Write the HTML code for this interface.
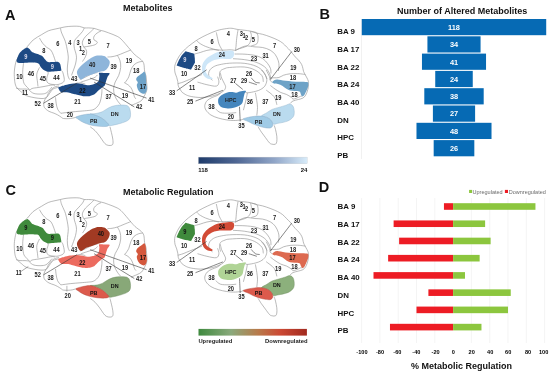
<!DOCTYPE html>
<html><head><meta charset="utf-8"><style>
html,body{margin:0;padding:0;background:#fff;}
svg{display:block;font-family:"Liberation Sans", sans-serif;will-change:transform;}
</style></head><body>
<svg width="550" height="373" viewBox="0 0 550 373">
<g transform="translate(0,0)">
<path d="M22.00,92.50 C21.50,92.08 19.83,90.75 19.00,90.00 C18.17,89.25 17.58,88.83 17.00,88.00 C16.42,87.17 15.90,86.30 15.50,85.00 C15.10,83.70 14.80,82.35 14.60,80.20 C14.40,78.05 14.17,74.78 14.30,72.10 C14.43,69.42 14.95,66.23 15.40,64.10 C15.85,61.97 16.05,61.17 17.00,59.30 C17.95,57.43 19.35,55.05 21.10,52.90 C22.85,50.75 25.50,48.55 27.50,46.40 C29.50,44.25 30.77,41.95 33.10,40.00 C35.43,38.05 38.98,36.22 41.50,34.70 C44.02,33.18 46.12,31.80 48.20,30.90 C50.28,30.00 52.18,29.75 54.00,29.30 C55.82,28.85 57.43,28.57 59.10,28.20 C60.77,27.83 62.48,27.38 64.00,27.10 C65.52,26.82 66.53,26.65 68.20,26.50 C69.87,26.35 72.12,26.22 74.00,26.20 C75.88,26.18 77.78,26.12 79.50,26.40 C81.22,26.68 82.80,27.65 84.30,27.90 C85.80,28.15 86.87,27.82 88.50,27.90 C90.13,27.98 92.33,28.05 94.10,28.40 C95.87,28.75 97.45,29.53 99.10,30.00 C100.75,30.47 102.48,30.75 104.00,31.20 C105.52,31.65 106.70,32.15 108.20,32.70 C109.70,33.25 111.48,33.88 113.00,34.50 C114.52,35.12 115.97,35.65 117.30,36.40 C118.63,37.15 119.52,37.60 121.00,39.00 C122.48,40.40 124.53,42.88 126.20,44.80 C127.87,46.72 129.52,48.80 131.00,50.50 C132.48,52.20 133.42,53.47 135.10,55.00 C136.78,56.53 139.65,58.25 141.10,59.70 C142.55,61.15 143.22,61.82 143.80,63.70 C144.38,65.58 144.23,68.95 144.60,71.00 C144.97,73.05 145.67,74.17 146.00,76.00 C146.33,77.83 146.43,79.92 146.60,82.00 C146.77,84.08 147.10,86.75 147.00,88.50 C146.90,90.25 146.50,91.17 146.00,92.50 C145.50,93.83 144.75,95.17 144.00,96.50 C143.25,97.83 142.67,99.42 141.50,100.50 C140.33,101.58 138.75,102.17 137.00,103.00 C135.25,103.83 132.00,105.08 131.00,105.50" fill="none" stroke="#8c8c8c" stroke-width="0.6"/>
<path d="M22.00,92.50 C22.50,92.92 23.83,94.33 25.00,95.00 C26.17,95.67 27.33,96.03 29.00,96.50 C30.67,96.97 33.00,97.47 35.00,97.80 C37.00,98.13 39.33,98.43 41.00,98.50 C42.67,98.57 44.00,98.53 45.00,98.20 C46.00,97.87 46.50,97.20 47.00,96.50 C47.50,95.80 47.50,94.92 48.00,94.00 C48.50,93.08 49.17,92.00 50.00,91.00 C50.83,90.00 52.00,88.75 53.00,88.00 C54.00,87.25 55.00,86.83 56.00,86.50 C57.00,86.17 58.50,86.08 59.00,86.00" fill="none" stroke="#8c8c8c" stroke-width="0.6"/>
<path d="M58.30,87.30 C57.47,87.57 54.60,88.12 53.30,88.90 C52.00,89.68 51.35,90.90 50.50,92.00 C49.65,93.10 49.12,94.25 48.20,95.50 C47.28,96.75 45.73,98.20 45.00,99.50 C44.27,100.80 43.88,101.95 43.80,103.30 C43.72,104.65 43.65,106.27 44.50,107.60 C45.35,108.93 47.32,110.37 48.90,111.30 C50.48,112.23 52.55,112.60 54.00,113.20 C55.45,113.80 56.43,114.27 57.60,114.90 C58.77,115.53 60.02,116.40 61.00,117.00 C61.98,117.60 61.88,118.25 63.50,118.50 C65.12,118.75 68.53,118.73 70.70,118.50 C72.87,118.27 75.53,117.33 76.50,117.10" fill="none" stroke="#8c8c8c" stroke-width="0.6"/>
<path d="M39.50,38.10 C40.05,38.98 41.58,41.85 42.80,43.40 C44.02,44.95 45.45,46.28 46.80,47.40 C48.15,48.52 49.78,48.75 50.90,50.10 C52.02,51.45 52.73,53.60 53.50,55.50 C54.27,57.40 55.17,60.50 55.50,61.50" fill="none" stroke="#8c8c8c" stroke-width="0.6"/>
<path d="M60.50,28.30 C60.63,28.92 60.88,30.72 61.30,32.00 C61.72,33.28 62.42,34.67 63.00,36.00 C63.58,37.33 64.32,38.75 64.80,40.00 C65.28,41.25 65.50,41.92 65.90,43.50 C66.30,45.08 66.80,47.25 67.20,49.50 C67.60,51.75 68.20,54.75 68.30,57.00 C68.40,59.25 67.97,61.00 67.80,63.00 C67.63,65.00 67.28,66.93 67.30,69.00 C67.32,71.07 67.53,73.65 67.90,75.40 C68.27,77.15 69.23,78.82 69.50,79.50" fill="none" stroke="#8c8c8c" stroke-width="0.6"/>
<path d="M84.30,27.90 C83.98,28.52 83.42,30.20 82.40,31.60 C81.38,33.00 79.45,34.90 78.20,36.30 C76.95,37.70 75.60,38.75 74.90,40.00 C74.20,41.25 74.08,42.38 74.00,43.80 C73.92,45.22 74.10,46.95 74.40,48.50 C74.70,50.05 75.45,51.55 75.80,53.10 C76.15,54.65 76.55,55.98 76.50,57.80 C76.45,59.62 76.00,61.97 75.50,64.00 C75.00,66.03 74.17,68.10 73.50,70.00 C72.83,71.90 71.83,74.50 71.50,75.40" fill="none" stroke="#8c8c8c" stroke-width="0.6"/>
<path d="M94.10,28.40 C93.48,29.00 91.80,30.68 90.40,32.00 C89.00,33.32 86.95,34.88 85.70,36.30 C84.45,37.72 83.45,39.25 82.90,40.50 C82.35,41.75 82.25,42.72 82.40,43.80 C82.55,44.88 83.17,45.98 83.80,47.00 C84.43,48.02 85.73,48.88 86.20,49.90 C86.67,50.92 86.75,51.92 86.60,53.10 C86.45,54.28 85.98,55.60 85.30,57.00 C84.62,58.40 82.97,60.75 82.50,61.50" fill="none" stroke="#8c8c8c" stroke-width="0.6"/>
<path d="M83.80,47.00 C84.75,46.85 87.62,46.48 89.50,46.10 C91.38,45.72 93.78,45.32 95.10,44.70 C96.42,44.08 97.25,43.02 97.40,42.40 C97.55,41.78 96.55,41.40 96.00,41.00 C95.45,40.60 94.48,40.63 94.10,40.00 C93.72,39.37 93.47,38.13 93.70,37.20 C93.93,36.27 94.65,35.27 95.50,34.40 C96.35,33.53 97.88,32.55 98.80,32.00 C99.72,31.45 100.63,31.25 101.00,31.10" fill="none" stroke="#8c8c8c" stroke-width="0.6"/>
<path d="M23.50,63.30 C23.37,64.77 22.70,69.02 22.70,72.10 C22.70,75.18 22.95,79.48 23.50,81.80 C24.05,84.12 25.00,84.72 26.00,86.00 C27.00,87.28 28.92,88.92 29.50,89.50" fill="none" stroke="#8c8c8c" stroke-width="0.6"/>
<path d="M39.50,67.40 C39.05,68.52 37.13,71.65 36.80,74.10 C36.47,76.55 37.30,80.03 37.50,82.10 C37.70,84.17 37.92,85.77 38.00,86.50" fill="none" stroke="#8c8c8c" stroke-width="0.6"/>
<path d="M46.00,70.50 C46.37,70.87 48.07,71.43 48.20,72.70 C48.33,73.97 47.00,76.55 46.80,78.10 C46.60,79.65 46.47,81.02 47.00,82.00 C47.53,82.98 48.83,83.58 50.00,84.00 C51.17,84.42 53.33,84.42 54.00,84.50" fill="none" stroke="#8c8c8c" stroke-width="0.6"/>
<path d="M61.50,70.50 C61.73,70.87 62.43,71.22 62.90,72.70 C63.37,74.18 64.28,77.77 64.30,79.40 C64.32,81.03 64.05,81.65 63.00,82.50 C61.95,83.35 59.50,84.17 58.00,84.50 C56.50,84.83 54.67,84.50 54.00,84.50" fill="none" stroke="#8c8c8c" stroke-width="0.6"/>
<path d="M16.00,88.00 C16.67,88.17 18.50,88.83 20.00,89.00 C21.50,89.17 23.42,88.92 25.00,89.00 C26.58,89.08 28.75,89.42 29.50,89.50" fill="none" stroke="#8c8c8c" stroke-width="0.6"/>
<path d="M29.50,90.50 C29.92,90.17 30.58,89.00 32.00,88.50 C33.42,88.00 36.00,87.83 38.00,87.50 C40.00,87.17 41.67,86.92 44.00,86.50 C46.33,86.08 50.17,85.17 52.00,85.00 C53.83,84.83 54.50,85.42 55.00,85.50" fill="none" stroke="#8c8c8c" stroke-width="0.6"/>
<path d="M29.50,90.50 C30.25,91.00 31.92,92.92 34.00,93.50 C36.08,94.08 39.83,94.17 42.00,94.00 C44.17,93.83 45.33,93.67 47.00,92.50 C48.67,91.33 51.17,87.92 52.00,87.00" fill="none" stroke="#8c8c8c" stroke-width="0.6"/>
<path d="M130.80,50.00 C129.68,50.45 126.33,51.80 124.10,52.70 C121.87,53.60 119.42,54.73 117.40,55.40 C115.38,56.07 113.65,56.43 112.00,56.70 C110.35,56.97 108.25,56.95 107.50,57.00" fill="none" stroke="#8c8c8c" stroke-width="0.6"/>
<path d="M117.40,55.40 C117.83,56.28 119.45,58.70 120.00,60.70 C120.55,62.70 120.92,64.93 120.70,67.40 C120.48,69.87 119.62,73.07 118.70,75.50 C117.78,77.93 116.05,79.83 115.20,82.00 C114.35,84.17 113.72,86.33 113.60,88.50 C113.48,90.67 113.87,92.98 114.50,95.00 C115.13,97.02 116.38,99.00 117.40,100.60 C118.42,102.20 120.07,103.93 120.60,104.60" fill="none" stroke="#8c8c8c" stroke-width="0.6"/>
<path d="M142.80,61.40 C142.13,61.52 140.25,61.55 138.80,62.10 C137.35,62.65 135.43,63.37 134.10,64.70 C132.77,66.03 131.68,68.08 130.80,70.10 C129.92,72.12 129.70,74.78 128.80,76.80 C127.90,78.82 126.08,81.20 125.40,82.20 C124.72,83.20 124.25,82.35 124.70,82.80 C125.15,83.25 127.08,84.12 128.10,84.90 C129.12,85.68 130.02,86.38 130.80,87.50 C131.58,88.62 132.18,90.03 132.80,91.60 C133.42,93.17 133.97,95.67 134.50,96.90 C135.03,98.13 135.75,98.65 136.00,99.00" fill="none" stroke="#8c8c8c" stroke-width="0.6"/>
<path d="M55.50,97.40 C55.62,98.38 55.85,101.35 56.20,103.30 C56.55,105.25 56.83,107.43 57.60,109.10 C58.37,110.77 60.27,112.60 60.80,113.30" fill="none" stroke="#8c8c8c" stroke-width="0.6"/>
<path d="M60.80,113.30 C62.45,113.08 67.50,112.35 70.70,112.00 C73.90,111.65 77.08,111.45 80.00,111.20 C82.92,110.95 86.03,110.73 88.20,110.50 C90.37,110.27 91.62,110.30 93.00,109.80 C94.38,109.30 95.42,108.55 96.50,107.50 C97.58,106.45 98.75,105.00 99.50,103.50 C100.25,102.00 100.62,100.25 101.00,98.50 C101.38,96.75 101.63,94.67 101.80,93.00 C101.97,91.33 101.97,89.25 102.00,88.50" fill="none" stroke="#8c8c8c" stroke-width="0.6"/>
<path d="M90.30,126.90 C91.08,127.52 93.43,129.03 95.00,130.60 C96.57,132.17 98.28,134.42 99.70,136.30 C101.12,138.18 102.40,140.50 103.50,141.90 C104.60,143.30 105.22,144.10 106.30,144.70 C107.38,145.30 108.92,145.58 110.00,145.50 C111.08,145.42 112.33,145.27 112.80,144.20 C113.27,143.13 113.03,141.05 112.80,139.10 C112.57,137.15 111.87,134.53 111.40,132.50 C110.93,130.47 110.23,127.83 110.00,126.90" fill="none" stroke="#8c8c8c" stroke-width="0.6"/>
<path d="M79.90,79.50 C80.80,79.12 83.65,77.97 85.30,77.20 C86.95,76.43 88.40,75.55 89.80,74.90 C91.20,74.25 92.42,73.68 93.70,73.30 C94.98,72.92 96.87,72.72 97.50,72.60" fill="none" stroke="#8c8c8c" stroke-width="0.6"/>
<path d="M80.70,82.20 C81.72,81.87 85.02,80.78 86.80,80.20 C88.58,79.62 90.00,79.20 91.40,78.70 C92.80,78.20 94.18,77.83 95.20,77.20 C96.22,76.57 97.12,75.28 97.50,74.90" fill="none" stroke="#8c8c8c" stroke-width="0.6"/>
<path d="M78.00,83.20 C78.45,83.15 79.48,82.77 80.70,82.90 C81.92,83.03 84.53,83.82 85.30,84.00" fill="none" stroke="#8c8c8c" stroke-width="0.6"/>
<path d="M16.50,60.50 C16.65,59.65 18.45,55.00 19.00,54.00 C19.55,53.00 21.40,51.05 22.00,50.50 C22.60,49.95 24.45,48.81 25.00,48.50 C25.55,48.19 27.05,47.35 27.50,47.40 C27.95,47.45 29.07,48.56 29.50,49.00 C29.93,49.44 31.25,51.37 31.80,51.80 C32.35,52.23 34.34,53.05 35.00,53.30 C35.66,53.55 37.63,53.99 38.40,54.30 C39.17,54.61 42.05,55.90 42.70,56.40 C43.35,56.90 44.46,58.78 44.90,59.30 C45.34,59.82 46.66,61.30 47.10,61.60 C47.54,61.90 48.21,62.27 49.30,62.30 C50.39,62.33 56.91,61.73 58.00,61.90 C59.09,62.07 59.87,63.24 60.20,64.00 C60.53,64.76 61.24,68.83 61.30,69.50 C61.36,70.17 61.43,70.53 60.80,70.70 C60.17,70.87 56.26,71.09 55.00,71.20 C53.74,71.31 49.32,71.92 48.20,71.80 C47.08,71.68 44.57,70.51 43.80,70.00 C43.03,69.49 40.95,67.27 40.50,66.70 C40.05,66.13 39.62,64.67 39.30,64.30 C38.98,63.93 38.05,63.17 37.30,63.00 C36.55,62.83 32.93,62.62 31.80,62.60 C30.67,62.58 27.09,62.75 26.00,62.80 C24.91,62.85 21.75,63.13 20.90,63.10 C20.05,63.07 17.94,62.76 17.50,62.50 C17.06,62.24 16.35,61.35 16.50,60.50Z" fill="#1d4a84" stroke="none" stroke-width="0.45"/>
<path d="M99.00,55.50 C100.33,55.53 102.67,55.58 104.00,56.00 C105.33,56.42 106.08,57.17 107.00,58.00 C107.92,58.83 109.08,60.00 109.50,61.00 C109.92,62.00 109.75,62.92 109.50,64.00 C109.25,65.08 108.75,66.42 108.00,67.50 C107.25,68.58 106.17,69.83 105.00,70.50 C103.83,71.17 102.33,71.17 101.00,71.50 C99.67,71.83 98.50,72.00 97.00,72.50 C95.50,73.00 93.67,73.92 92.00,74.50 C90.33,75.08 88.50,75.33 87.00,76.00 C85.50,76.67 84.00,77.92 83.00,78.50 C82.00,79.08 81.67,79.58 81.00,79.50 C80.33,79.42 79.58,78.75 79.00,78.00 C78.42,77.25 77.83,76.08 77.50,75.00 C77.17,73.92 76.75,72.67 77.00,71.50 C77.25,70.33 78.00,69.25 79.00,68.00 C80.00,66.75 81.50,65.33 83.00,64.00 C84.50,62.67 86.33,61.17 88.00,60.00 C89.67,58.83 91.67,57.70 93.00,57.00 C94.33,56.30 95.00,56.05 96.00,55.80 C97.00,55.55 97.67,55.47 99.00,55.50Z" fill="#8eb5da" stroke="none" stroke-width="0.45"/>
<path d="M58.30,87.30 C58.75,86.79 62.83,85.73 64.00,85.40 C65.17,85.07 68.64,84.21 70.00,84.00 C71.36,83.79 76.23,83.26 77.60,83.30 C78.97,83.34 82.63,84.21 83.70,84.40 C84.77,84.59 87.38,85.20 88.30,85.20 C89.22,85.20 92.13,84.59 92.90,84.40 C93.67,84.21 95.47,83.57 96.00,83.30 C96.53,83.03 97.90,82.08 98.20,81.70 C98.50,81.32 98.88,80.11 99.00,79.50 C99.12,78.89 99.40,76.27 99.40,75.60 C99.40,74.93 98.54,73.07 99.00,72.80 C99.46,72.53 102.93,72.86 104.00,72.90 C105.07,72.94 109.36,72.77 109.70,73.20 C110.04,73.63 107.78,76.35 107.40,77.20 C107.02,78.05 106.17,80.86 105.90,81.70 C105.63,82.54 105.07,85.02 104.70,85.60 C104.33,86.18 102.83,87.01 102.20,87.50 C101.57,87.99 99.17,89.82 98.40,90.50 C97.63,91.18 95.39,93.73 94.50,94.30 C93.61,94.87 90.64,96.01 89.50,96.20 C88.36,96.39 84.50,96.39 83.10,96.20 C81.70,96.01 77.03,94.68 75.50,94.30 C73.97,93.92 69.20,92.59 67.80,92.40 C66.40,92.21 62.33,92.59 61.50,92.40 C60.67,92.21 59.82,91.01 59.50,90.50 C59.18,89.99 57.85,87.81 58.30,87.30Z" fill="#1d4a84" stroke="none" stroke-width="0.45"/>
<path d="M144.50,71.70 C144.95,72.15 145.53,73.42 145.80,75.10 C146.07,76.78 145.92,79.57 146.10,81.80 C146.28,84.03 146.95,86.72 146.90,88.50 C146.85,90.28 146.32,91.62 145.80,92.50 C145.28,93.38 144.70,93.80 143.80,93.80 C142.90,93.80 141.40,93.27 140.40,92.50 C139.40,91.73 138.40,90.43 137.80,89.20 C137.20,87.97 136.80,86.22 136.80,85.10 C136.80,83.98 137.90,83.38 137.80,82.50 C137.70,81.62 136.32,80.70 136.20,79.80 C136.08,78.90 136.40,78.00 137.10,77.10 C137.80,76.20 139.40,75.18 140.40,74.40 C141.40,73.62 142.42,72.85 143.10,72.40 C143.78,71.95 144.05,71.25 144.50,71.70Z" fill="#6ea3c9" stroke="none" stroke-width="0.45"/>
<path d="M90.10,114.00 C89.97,113.62 93.98,113.87 96.00,113.50 C98.02,113.13 100.05,112.77 102.20,111.80 C104.35,110.83 106.67,108.75 108.90,107.70 C111.13,106.65 113.15,105.93 115.60,105.50 C118.05,105.07 121.48,104.95 123.60,105.10 C125.72,105.25 127.18,105.40 128.30,106.40 C129.42,107.40 129.97,109.32 130.30,111.10 C130.63,112.88 130.73,115.53 130.30,117.10 C129.87,118.67 129.25,119.48 127.70,120.50 C126.15,121.52 123.47,122.42 121.00,123.20 C118.53,123.98 114.92,124.82 112.90,125.20 C110.88,125.58 110.02,126.07 108.90,125.50 C107.78,124.93 107.32,122.97 106.20,121.80 C105.08,120.63 103.77,119.50 102.20,118.50 C100.63,117.50 98.82,116.55 96.80,115.80 C94.78,115.05 90.23,114.38 90.10,114.00Z" fill="#badbef" stroke="#94b4cc" stroke-width="0.45"/>
<path d="M76.00,117.10 C76.68,116.43 79.75,115.62 82.10,115.10 C84.45,114.58 87.65,113.88 90.10,114.00 C92.55,114.12 94.78,115.05 96.80,115.80 C98.82,116.55 100.63,117.50 102.20,118.50 C103.77,119.50 105.08,120.68 106.20,121.80 C107.32,122.92 109.12,124.42 108.90,125.20 C108.68,125.98 106.92,126.35 104.90,126.50 C102.88,126.65 99.48,126.43 96.80,126.10 C94.12,125.77 91.25,125.22 88.80,124.50 C86.35,123.78 83.90,122.70 82.10,121.80 C80.30,120.90 79.02,119.88 78.00,119.10 C76.98,118.32 75.32,117.77 76.00,117.10Z" fill="#a0cbe6" stroke="#86a8c4" stroke-width="0.45"/>
<path d="M43.40,103.30 C49.07,99.88 71.73,86.22 77.40,82.80" fill="none" stroke="#333" stroke-width="0.6"/>
<path d="M90.10,78.10 C99.50,81.43 137.10,94.77 146.50,98.10" fill="none" stroke="#333" stroke-width="0.6"/>
<path d="M94.10,82.10 C100.80,86.23 127.60,102.77 134.30,106.90" fill="none" stroke="#333" stroke-width="0.6"/>
<text transform="translate(43.90,52.74) scale(0.88,1)" font-size="6.5" font-weight="bold" fill="#222" text-anchor="middle">8</text>
<text transform="translate(57.80,46.04) scale(0.88,1)" font-size="6.5" font-weight="bold" fill="#222" text-anchor="middle">6</text>
<text transform="translate(69.80,44.74) scale(0.88,1)" font-size="6.5" font-weight="bold" fill="#222" text-anchor="middle">4</text>
<text transform="translate(78.20,45.34) scale(0.88,1)" font-size="6.5" font-weight="bold" fill="#222" text-anchor="middle">3</text>
<text transform="translate(80.60,50.84) scale(0.88,1)" font-size="6.5" font-weight="bold" fill="#222" text-anchor="middle">1</text>
<text transform="translate(83.40,55.14) scale(0.88,1)" font-size="6.5" font-weight="bold" fill="#222" text-anchor="middle">2</text>
<text transform="translate(89.40,44.34) scale(0.88,1)" font-size="6.5" font-weight="bold" fill="#222" text-anchor="middle">5</text>
<text transform="translate(108.00,48.34) scale(0.88,1)" font-size="6.5" font-weight="bold" fill="#222" text-anchor="middle">7</text>
<text transform="translate(19.40,79.34) scale(0.88,1)" font-size="6.5" font-weight="bold" fill="#222" text-anchor="middle">10</text>
<text transform="translate(31.00,76.04) scale(0.88,1)" font-size="6.5" font-weight="bold" fill="#222" text-anchor="middle">46</text>
<text transform="translate(42.80,81.34) scale(0.88,1)" font-size="6.5" font-weight="bold" fill="#222" text-anchor="middle">45</text>
<text transform="translate(56.50,80.24) scale(0.88,1)" font-size="6.5" font-weight="bold" fill="#222" text-anchor="middle">44</text>
<text transform="translate(74.20,80.64) scale(0.88,1)" font-size="6.5" font-weight="bold" fill="#222" text-anchor="middle">43</text>
<text transform="translate(37.70,105.74) scale(0.88,1)" font-size="6.5" font-weight="bold" fill="#222" text-anchor="middle">52</text>
<text transform="translate(50.60,108.14) scale(0.88,1)" font-size="6.5" font-weight="bold" fill="#222" text-anchor="middle">38</text>
<text transform="translate(77.40,104.44) scale(0.88,1)" font-size="6.5" font-weight="bold" fill="#222" text-anchor="middle">21</text>
<text transform="translate(113.60,68.74) scale(0.88,1)" font-size="6.5" font-weight="bold" fill="#222" text-anchor="middle">39</text>
<text transform="translate(128.90,63.24) scale(0.88,1)" font-size="6.5" font-weight="bold" fill="#222" text-anchor="middle">19</text>
<text transform="translate(136.20,73.44) scale(0.88,1)" font-size="6.5" font-weight="bold" fill="#222" text-anchor="middle">18</text>
<text transform="translate(108.60,99.04) scale(0.88,1)" font-size="6.5" font-weight="bold" fill="#222" text-anchor="middle">37</text>
<text transform="translate(125.00,98.24) scale(0.88,1)" font-size="6.5" font-weight="bold" fill="#222" text-anchor="middle">19</text>
<text transform="translate(139.20,109.14) scale(0.88,1)" font-size="6.5" font-weight="bold" fill="#222" text-anchor="middle">42</text>
<text transform="translate(151.30,101.54) scale(0.88,1)" font-size="6.5" font-weight="bold" fill="#222" text-anchor="middle">41</text>
<text transform="translate(25.90,58.74) scale(0.88,1)" font-size="6.5" font-weight="bold" fill="#dde" text-anchor="middle">9</text>
<text transform="translate(52.40,69.34) scale(0.88,1)" font-size="6.5" font-weight="bold" fill="#dde" text-anchor="middle">9</text>
<text transform="translate(82.50,93.04) scale(0.88,1)" font-size="6.5" font-weight="bold" fill="#111" text-anchor="middle">22</text>
<text transform="translate(92.20,67.44) scale(0.88,1)" font-size="6.5" font-weight="bold" fill="#222" text-anchor="middle">40</text>
<text transform="translate(143.00,88.74) scale(0.88,1)" font-size="6.5" font-weight="bold" fill="#222" text-anchor="middle">17</text>
<text transform="translate(114.70,116.05) scale(0.95,1)" font-size="5.7" font-weight="bold" fill="#222" text-anchor="middle">DN</text>
<text transform="translate(93.70,123.45) scale(0.95,1)" font-size="5.7" font-weight="bold" fill="#222" text-anchor="middle">PB</text>
<text transform="translate(24.90,95.24) scale(0.88,1)" font-size="6.5" font-weight="bold" fill="#222" text-anchor="middle">11</text>
<text transform="translate(69.80,117.34) scale(0.88,1)" font-size="6.5" font-weight="bold" fill="#222" text-anchor="middle">20</text>
</g>
<g transform="translate(0,0)">
<path d="M182.10,92.30 C181.73,91.77 180.53,90.17 179.90,89.10 C179.27,88.03 178.65,87.15 178.30,85.90 C177.95,84.65 178.07,83.03 177.80,81.60 C177.53,80.17 177.15,78.73 176.70,77.30 C176.25,75.87 175.45,74.43 175.10,73.00 C174.75,71.57 174.62,70.03 174.60,68.70 C174.58,67.37 174.70,66.20 175.00,65.00 C175.30,63.80 175.63,63.08 176.40,61.50 C177.17,59.92 178.12,57.58 179.60,55.50 C181.08,53.42 183.22,51.00 185.30,49.00 C187.38,47.00 189.82,45.20 192.10,43.50 C194.38,41.80 196.48,40.28 199.00,38.80 C201.52,37.32 204.23,35.97 207.20,34.60 C210.17,33.23 213.60,31.60 216.80,30.60 C220.00,29.60 223.87,28.98 226.40,28.60 C228.93,28.22 230.07,28.15 232.00,28.30 C233.93,28.45 234.98,29.05 238.00,29.50 C241.02,29.95 247.05,30.42 250.10,31.00 C253.15,31.58 254.22,32.45 256.30,33.00 C258.38,33.55 260.30,33.67 262.60,34.30 C264.90,34.93 267.58,35.85 270.10,36.80 C272.62,37.75 275.60,38.95 277.70,40.00 C279.80,41.05 281.23,41.95 282.70,43.10 C284.17,44.25 285.23,45.63 286.50,46.90 C287.77,48.17 289.30,49.60 290.30,50.70 C291.30,51.80 291.65,52.45 292.50,53.50 C293.35,54.55 294.30,55.78 295.40,57.00 C296.50,58.22 298.05,59.53 299.10,60.80 C300.15,62.07 301.07,63.33 301.70,64.60 C302.33,65.87 302.58,67.25 302.90,68.40 C303.22,69.55 303.22,70.45 303.60,71.50 C303.98,72.55 304.63,73.62 305.20,74.70 C305.77,75.78 306.48,76.95 307.00,78.00 C307.52,79.05 308.05,80.08 308.30,81.00 C308.55,81.92 308.57,82.13 308.50,83.50 C308.43,84.87 308.37,87.27 307.90,89.20 C307.43,91.13 306.55,93.62 305.70,95.10 C304.85,96.58 304.03,97.37 302.80,98.10 C301.57,98.83 299.93,99.02 298.30,99.50 C296.67,99.98 294.38,100.33 293.00,101.00 C291.62,101.67 290.50,103.08 290.00,103.50" fill="none" stroke="#8c8c8c" stroke-width="0.6"/>
<path d="M182.10,92.30 C182.82,92.75 184.80,94.28 186.40,95.00 C188.00,95.72 189.40,96.18 191.70,96.60 C194.00,97.02 197.45,97.47 200.20,97.50 C202.95,97.53 205.52,97.25 208.20,96.80 C210.88,96.35 213.83,95.70 216.30,94.80 C218.77,93.90 221.45,92.63 223.00,91.40 C224.55,90.17 225.38,88.73 225.60,87.40 C225.82,86.07 224.97,84.97 224.30,83.40 C223.63,81.83 222.27,79.78 221.60,78.00 C220.93,76.22 220.52,73.58 220.30,72.70" fill="none" stroke="#8c8c8c" stroke-width="0.6"/>
<path d="M220.50,93.30 C219.90,93.70 218.30,95.00 216.90,95.70 C215.50,96.40 213.72,96.70 212.10,97.50 C210.48,98.30 208.42,99.18 207.20,100.50 C205.98,101.82 205.00,103.78 204.80,105.40 C204.60,107.02 204.98,108.60 206.00,110.20 C207.02,111.80 208.88,113.70 210.90,115.00 C212.92,116.30 215.48,117.18 218.10,118.00 C220.72,118.82 223.98,119.48 226.60,119.90 C229.22,120.32 231.38,120.50 233.80,120.50 C236.22,120.50 239.52,120.18 241.10,119.90 C242.68,119.62 242.93,118.98 243.30,118.80" fill="none" stroke="#8c8c8c" stroke-width="0.6"/>
<path d="M196.80,40.60 C197.25,41.03 198.05,42.23 199.50,43.20 C200.95,44.17 203.15,45.42 205.50,46.40 C207.85,47.38 211.37,48.43 213.60,49.10 C215.83,49.77 218.02,50.18 218.90,50.40" fill="none" stroke="#8c8c8c" stroke-width="0.6"/>
<path d="M216.30,32.40 C216.52,33.40 217.17,36.50 217.60,38.40 C218.03,40.30 218.23,42.02 218.90,43.80 C219.57,45.58 220.92,47.90 221.60,49.10 C222.28,50.30 222.77,50.68 223.00,51.00" fill="none" stroke="#8c8c8c" stroke-width="0.6"/>
<path d="M194.50,54.00 C195.45,53.75 198.13,53.10 200.20,52.50 C202.27,51.90 204.67,50.88 206.90,50.40 C209.13,49.92 211.08,49.63 213.60,49.60 C216.12,49.57 219.27,50.17 222.00,50.20 C224.73,50.23 227.77,49.77 230.00,49.80 C232.23,49.83 234.50,50.30 235.40,50.40" fill="none" stroke="#8c8c8c" stroke-width="0.6"/>
<path d="M238.00,30.00 C237.78,31.40 237.03,35.67 236.70,38.40 C236.37,41.13 236.22,44.40 236.00,46.40 C235.78,48.40 235.50,49.73 235.40,50.40" fill="none" stroke="#8c8c8c" stroke-width="0.6"/>
<path d="M250.10,31.00 C250.32,31.78 251.40,33.80 251.40,35.70 C251.40,37.60 250.98,40.62 250.10,42.40 C249.22,44.18 248.12,45.28 246.10,46.40 C244.08,47.52 239.78,48.43 238.00,49.10 C236.22,49.77 235.83,50.18 235.40,50.40" fill="none" stroke="#8c8c8c" stroke-width="0.6"/>
<path d="M251.40,31.70 C252.30,31.92 255.68,31.88 256.80,33.00 C257.92,34.12 258.10,36.60 258.10,38.40 C258.10,40.20 257.92,42.57 256.80,43.80 C255.68,45.03 252.30,45.47 251.40,45.80" fill="none" stroke="#8c8c8c" stroke-width="0.6"/>
<path d="M235.40,50.60 C237.00,49.85 241.73,46.72 245.00,46.10 C248.27,45.48 252.07,46.67 255.00,46.90 C257.93,47.13 260.08,46.97 262.60,47.50 C265.12,48.03 268.00,48.93 270.10,50.10 C272.20,51.27 273.83,52.72 275.20,54.50 C276.57,56.28 277.67,58.92 278.30,60.80 C278.93,62.68 279.00,64.10 279.00,65.80 C279.00,67.50 278.42,70.13 278.30,71.00" fill="none" stroke="#8c8c8c" stroke-width="0.6"/>
<path d="M234.60,54.00 C236.33,54.03 241.55,53.95 245.00,54.20 C248.45,54.45 252.37,54.78 255.30,55.50 C258.23,56.22 260.55,57.17 262.60,58.50 C264.65,59.83 266.28,61.83 267.60,63.50 C268.92,65.17 269.93,66.83 270.50,68.50 C271.07,70.17 270.92,72.67 271.00,73.50" fill="none" stroke="#8c8c8c" stroke-width="0.6"/>
<path d="M233.00,58.70 C234.87,58.85 240.37,59.02 244.20,59.60 C248.03,60.18 252.57,60.97 256.00,62.20 C259.43,63.43 262.55,65.12 264.80,67.00 C267.05,68.88 268.47,71.42 269.50,73.50 C270.53,75.58 270.75,78.50 271.00,79.50" fill="none" stroke="#8c8c8c" stroke-width="0.6"/>
<path d="M220.60,80.00 C220.42,79.17 219.50,76.53 219.50,75.00 C219.50,73.47 219.68,71.88 220.60,70.80 C221.52,69.72 223.52,69.05 225.00,68.50 C226.48,67.95 226.30,67.75 229.50,67.50 C232.70,67.25 240.03,66.62 244.20,67.00 C248.37,67.38 251.55,68.37 254.50,69.80 C257.45,71.23 260.43,73.60 261.90,75.60 C263.37,77.60 263.07,80.77 263.30,81.80" fill="none" stroke="#8c8c8c" stroke-width="0.6"/>
<path d="M212.50,80.30 C212.00,79.83 210.15,78.63 209.50,77.50 C208.85,76.37 208.52,74.78 208.60,73.50 C208.68,72.22 209.18,70.92 210.00,69.80 C210.82,68.68 211.98,67.63 213.50,66.80 C215.02,65.97 216.43,65.40 219.10,64.80 C221.77,64.20 225.32,63.45 229.50,63.20 C233.68,62.95 239.78,62.80 244.20,63.30 C248.62,63.80 252.82,64.83 256.00,66.20 C259.18,67.57 261.47,69.38 263.30,71.50 C265.13,73.62 266.38,77.67 267.00,78.90" fill="none" stroke="#8c8c8c" stroke-width="0.6"/>
<path d="M270.10,78.00 C270.75,77.97 272.53,77.88 274.00,77.80 C275.47,77.72 277.30,77.93 278.90,77.50 C280.50,77.07 281.73,75.82 283.60,75.20 C285.47,74.58 287.77,74.07 290.10,73.80 C292.43,73.53 295.40,73.53 297.60,73.60 C299.80,73.67 301.98,74.02 303.30,74.20 C304.62,74.38 305.13,74.62 305.50,74.70" fill="none" stroke="#8c8c8c" stroke-width="0.6"/>
<path d="M261.50,70.00 C262.17,70.90 264.62,73.62 265.50,75.40 C266.38,77.18 266.92,78.92 266.80,80.70 C266.68,82.48 265.80,84.65 264.80,86.10 C263.80,87.55 262.37,88.52 260.80,89.40 C259.23,90.28 257.63,90.83 255.40,91.40 C253.17,91.97 249.18,92.78 247.40,92.80 C245.62,92.82 245.15,91.72 244.70,91.50" fill="none" stroke="#8c8c8c" stroke-width="0.6"/>
<path d="M266.20,70.00 C266.75,71.12 268.83,74.95 269.50,76.70 C270.17,78.45 269.73,79.58 270.20,80.50 C270.67,81.42 271.95,81.92 272.30,82.20" fill="none" stroke="#8c8c8c" stroke-width="0.6"/>
<path d="M302.30,96.30 C302.00,96.30 301.43,96.00 300.50,96.30 C299.57,96.60 297.95,97.63 296.70,98.10 C295.45,98.57 293.93,99.25 293.00,99.10 C292.07,98.95 292.20,97.98 291.10,97.20 C290.00,96.42 288.12,95.18 286.40,94.40 C284.68,93.62 282.70,93.40 280.80,92.50 C278.90,91.60 276.73,90.17 275.00,89.00 C273.27,87.83 271.17,86.08 270.40,85.50" fill="none" stroke="#8c8c8c" stroke-width="0.6"/>
<path d="M266.20,90.10 C267.53,91.22 272.42,94.35 274.20,96.80 C275.98,99.25 276.45,103.47 276.90,104.80" fill="none" stroke="#8c8c8c" stroke-width="0.6"/>
<path d="M255.40,92.80 C255.63,94.13 256.45,98.35 256.80,100.80 C257.15,103.25 257.50,105.05 257.50,107.50 C257.50,109.95 256.92,114.17 256.80,115.50" fill="none" stroke="#8c8c8c" stroke-width="0.6"/>
<path d="M247.40,92.80 C247.18,93.92 246.77,96.60 246.10,99.50 C245.43,102.40 243.85,108.42 243.40,110.20" fill="none" stroke="#8c8c8c" stroke-width="0.6"/>
<path d="M215.70,109.00 C216.50,109.60 218.28,111.90 220.50,112.60 C222.72,113.30 226.38,113.20 229.00,113.20 C231.62,113.20 235.00,112.70 236.20,112.60" fill="none" stroke="#8c8c8c" stroke-width="0.6"/>
<path d="M258.10,126.80 C258.65,127.68 260.18,130.32 261.40,132.10 C262.62,133.88 264.05,135.70 265.40,137.50 C266.75,139.30 268.38,141.78 269.50,142.90 C270.62,144.02 271.10,143.98 272.10,144.20 C273.10,144.42 274.72,144.65 275.50,144.20 C276.28,143.75 276.58,142.83 276.80,141.50 C277.02,140.17 277.02,138.20 276.80,136.20 C276.58,134.20 275.93,131.30 275.50,129.50 C275.07,127.70 274.42,126.08 274.20,125.40" fill="none" stroke="#8c8c8c" stroke-width="0.6"/>
<path d="M177.80,83.70 C178.68,83.43 181.13,82.82 183.10,82.10 C185.07,81.38 187.35,80.30 189.60,79.40 C191.85,78.50 194.53,77.52 196.60,76.70 C198.67,75.88 201.10,74.87 202.00,74.50" fill="none" stroke="#8c8c8c" stroke-width="0.6"/>
<path d="M197.50,82.10 C199.07,82.53 203.77,84.03 206.90,84.70 C210.03,85.37 214.30,86.53 216.30,86.10 C218.30,85.67 218.68,83.67 218.90,82.10 C219.12,80.53 217.82,77.60 217.60,76.70" fill="none" stroke="#8c8c8c" stroke-width="0.6"/>
<path d="M185.60,51.20 C185.60,51.20 194.30,53.70 194.30,53.70 C194.30,53.70 194.80,58.00 194.80,58.00 C194.80,58.00 195.00,62.40 195.00,62.40 C195.00,62.40 193.00,66.00 193.00,66.00 C193.00,66.00 191.10,69.60 191.10,69.60 C191.10,69.60 186.00,68.50 186.00,68.50 C186.00,68.50 181.00,67.10 181.00,67.10 C181.00,67.10 176.60,65.60 176.60,65.60 C176.60,65.60 179.00,60.00 179.00,60.00 C179.00,60.00 182.00,55.00 182.00,55.00 C182.00,55.00 185.60,51.20 185.60,51.20Z" fill="#1d4a84" stroke="none"/>
<path d="M220.80,51.40 C219.38,51.67 217.93,51.95 216.50,52.50 C215.07,53.05 213.63,53.90 212.20,54.70 C210.77,55.50 209.15,56.32 207.90,57.30 C206.65,58.28 205.60,59.43 204.70,60.60 C203.80,61.77 202.95,62.97 202.50,64.30 C202.05,65.63 202.00,67.17 202.00,68.60 C202.00,70.03 202.15,71.65 202.50,72.90 C202.85,74.15 203.38,75.20 204.10,76.10 C204.82,77.00 205.63,77.77 206.80,78.30 C207.97,78.83 210.12,79.30 211.10,79.30 C212.08,79.30 212.70,78.65 212.70,78.30 C212.70,77.95 211.90,77.75 211.10,77.20 C210.30,76.65 208.80,75.90 207.90,75.00 C207.00,74.10 206.07,73.05 205.70,71.80 C205.33,70.55 205.43,68.75 205.70,67.50 C205.97,66.25 206.58,65.18 207.30,64.30 C208.02,63.42 208.83,62.92 210.00,62.20 C211.17,61.48 212.68,60.55 214.30,60.00 C215.92,59.45 217.92,59.08 219.70,58.90 C221.48,58.72 223.22,58.90 225.00,58.90 C226.78,58.90 229.05,59.17 230.40,58.90 C231.75,58.63 232.47,58.18 233.10,57.30 C233.73,56.42 234.20,54.67 234.20,53.60 C234.20,52.53 233.92,51.43 233.10,50.90 C232.28,50.37 230.65,50.40 229.30,50.40 C227.95,50.40 226.42,50.73 225.00,50.90 C223.58,51.07 222.22,51.13 220.80,51.40Z" fill="#cde6f8" stroke="none" stroke-width="0.45"/>
<path d="M218.70,98.10 C219.30,97.10 220.38,96.00 221.70,95.10 C223.02,94.20 224.98,93.20 226.60,92.70 C228.22,92.20 229.80,92.10 231.40,92.10 C233.00,92.10 234.78,92.80 236.20,92.70 C237.62,92.60 238.28,91.80 239.90,91.50 C241.52,91.20 245.10,90.60 245.90,90.90 C246.70,91.20 245.10,92.10 244.70,93.30 C244.30,94.50 243.90,96.50 243.50,98.10 C243.10,99.70 243.12,101.58 242.30,102.90 C241.48,104.22 240.02,105.18 238.60,106.00 C237.18,106.82 235.60,107.40 233.80,107.80 C232.00,108.20 229.82,108.50 227.80,108.40 C225.78,108.30 223.22,107.90 221.70,107.20 C220.18,106.50 219.30,105.22 218.70,104.20 C218.10,103.18 218.10,102.12 218.10,101.10 C218.10,100.08 218.10,99.10 218.70,98.10Z" fill="#4586bd" stroke="none" stroke-width="0.45"/>
<path d="M272.30,82.20 C272.30,81.65 273.42,80.77 274.20,80.30 C274.98,79.83 275.90,79.47 277.00,79.40 C278.10,79.33 279.38,79.67 280.80,79.90 C282.22,80.13 283.63,80.55 285.50,80.80 C287.37,81.05 289.67,81.25 292.00,81.40 C294.33,81.55 297.00,81.60 299.50,81.70 C302.00,81.80 305.52,81.68 307.00,82.00 C308.48,82.32 308.23,82.78 308.40,83.60 C308.57,84.42 308.38,85.57 308.00,86.90 C307.62,88.23 306.73,90.20 306.10,91.60 C305.47,93.00 304.83,94.52 304.20,95.30 C303.57,96.08 302.85,96.45 302.30,96.30 C301.75,96.15 301.37,95.18 300.90,94.40 C300.43,93.62 300.52,92.15 299.50,91.60 C298.48,91.05 296.37,91.27 294.80,91.10 C293.23,90.93 291.50,90.98 290.10,90.60 C288.70,90.22 287.65,89.57 286.40,88.80 C285.15,88.03 284.00,86.78 282.60,86.00 C281.20,85.22 279.40,84.50 278.00,84.10 C276.60,83.70 275.15,83.92 274.20,83.60 C273.25,83.28 272.30,82.75 272.30,82.20Z" fill="#6ea3c7" stroke="none" stroke-width="0.45"/>
<path d="M261.40,116.10 C261.40,115.32 265.02,113.82 266.80,112.70 C268.58,111.58 270.10,110.28 272.10,109.40 C274.10,108.52 276.57,108.07 278.80,107.40 C281.03,106.73 283.70,105.97 285.50,105.40 C287.30,104.83 288.37,103.90 289.60,104.00 C290.83,104.10 292.13,104.88 292.90,106.00 C293.67,107.12 294.08,109.02 294.20,110.70 C294.32,112.38 294.37,114.53 293.60,116.10 C292.83,117.67 291.17,119.10 289.60,120.10 C288.03,121.10 286.22,121.55 284.20,122.10 C282.18,122.65 279.28,123.07 277.50,123.40 C275.72,123.73 274.62,124.65 273.50,124.10 C272.38,123.55 271.92,121.22 270.80,120.10 C269.68,118.98 268.37,118.07 266.80,117.40 C265.23,116.73 261.40,116.88 261.40,116.10Z" fill="#badbef" stroke="#94b4cc" stroke-width="0.45"/>
<path d="M243.30,118.80 C243.97,118.40 246.10,117.82 248.00,117.40 C249.90,116.98 252.47,116.52 254.70,116.30 C256.93,116.08 259.38,115.92 261.40,116.10 C263.42,116.28 265.23,116.73 266.80,117.40 C268.37,118.07 269.80,118.98 270.80,120.10 C271.80,121.22 272.58,122.98 272.80,124.10 C273.02,125.22 272.65,126.13 272.10,126.80 C271.55,127.47 270.83,127.98 269.50,128.10 C268.17,128.22 265.88,127.83 264.10,127.50 C262.32,127.17 260.58,126.67 258.80,126.10 C257.02,125.53 255.20,124.88 253.40,124.10 C251.60,123.32 249.57,122.12 248.00,121.40 C246.43,120.68 244.78,120.23 244.00,119.80 C243.22,119.37 242.63,119.20 243.30,118.80Z" fill="#a0cbe6" stroke="#86a8c4" stroke-width="0.45"/>
<path d="M176.70,90.80 C181.68,87.30 201.62,73.30 206.60,69.80" fill="none" stroke="#333" stroke-width="0.6"/>
<path d="M195.50,101.10 C200.07,99.30 218.33,92.10 222.90,90.30" fill="none" stroke="#333" stroke-width="0.6"/>
<path d="M235.40,83.40 C236.62,84.40 241.48,88.40 242.70,89.40" fill="none" stroke="#333" stroke-width="0.6"/>
<path d="M248.80,82.10 C250.13,82.53 255.47,84.27 256.80,84.70" fill="none" stroke="#333" stroke-width="0.6"/>
<path d="M251.20,77.80 C251.90,78.52 253.98,81.25 255.40,82.10 C256.82,82.95 258.98,82.77 259.70,82.90" fill="none" stroke="#333" stroke-width="0.6"/>
<path d="M291.70,51.60 C288.13,56.25 273.87,74.85 270.30,79.50" fill="none" stroke="#333" stroke-width="0.6"/>
<path d="M239.50,106.80 C239.62,109.23 240.08,118.97 240.20,121.40" fill="none" stroke="#333" stroke-width="0.6"/>
<text transform="translate(228.30,36.34) scale(0.88,1)" font-size="6.5" font-weight="bold" fill="#222" text-anchor="middle">4</text>
<text transform="translate(212.20,43.64) scale(0.88,1)" font-size="6.5" font-weight="bold" fill="#222" text-anchor="middle">6</text>
<text transform="translate(196.20,51.04) scale(0.88,1)" font-size="6.5" font-weight="bold" fill="#222" text-anchor="middle">8</text>
<text transform="translate(197.50,70.44) scale(0.88,1)" font-size="6.5" font-weight="bold" fill="#222" text-anchor="middle">32</text>
<text transform="translate(184.10,76.24) scale(0.88,1)" font-size="6.5" font-weight="bold" fill="#222" text-anchor="middle">10</text>
<text transform="translate(192.10,90.44) scale(0.88,1)" font-size="6.5" font-weight="bold" fill="#222" text-anchor="middle">11</text>
<text transform="translate(172.10,94.74) scale(0.88,1)" font-size="6.5" font-weight="bold" fill="#222" text-anchor="middle">33</text>
<text transform="translate(190.10,104.04) scale(0.88,1)" font-size="6.5" font-weight="bold" fill="#222" text-anchor="middle">25</text>
<text transform="translate(211.50,108.74) scale(0.88,1)" font-size="6.5" font-weight="bold" fill="#222" text-anchor="middle">38</text>
<text transform="translate(241.40,35.64) scale(0.88,1)" font-size="6.5" font-weight="bold" fill="#222" text-anchor="middle">3</text>
<text transform="translate(244.10,37.64) scale(0.88,1)" font-size="6.5" font-weight="bold" fill="#222" text-anchor="middle">1</text>
<text transform="translate(246.70,39.64) scale(0.88,1)" font-size="6.5" font-weight="bold" fill="#222" text-anchor="middle">2</text>
<text transform="translate(253.40,41.64) scale(0.88,1)" font-size="6.5" font-weight="bold" fill="#222" text-anchor="middle">5</text>
<text transform="translate(274.50,48.04) scale(0.88,1)" font-size="6.5" font-weight="bold" fill="#222" text-anchor="middle">7</text>
<text transform="translate(265.60,58.24) scale(0.88,1)" font-size="6.5" font-weight="bold" fill="#222" text-anchor="middle">31</text>
<text transform="translate(253.90,61.24) scale(0.88,1)" font-size="6.5" font-weight="bold" fill="#222" text-anchor="middle">23</text>
<text transform="translate(248.90,76.24) scale(0.88,1)" font-size="6.5" font-weight="bold" fill="#222" text-anchor="middle">26</text>
<text transform="translate(296.80,51.64) scale(0.88,1)" font-size="6.5" font-weight="bold" fill="#222" text-anchor="middle">30</text>
<text transform="translate(293.30,69.94) scale(0.88,1)" font-size="6.5" font-weight="bold" fill="#222" text-anchor="middle">19</text>
<text transform="translate(293.00,79.94) scale(0.88,1)" font-size="6.5" font-weight="bold" fill="#222" text-anchor="middle">18</text>
<text transform="translate(294.40,97.24) scale(0.88,1)" font-size="6.5" font-weight="bold" fill="#222" text-anchor="middle">18</text>
<text transform="translate(233.30,83.34) scale(0.88,1)" font-size="6.5" font-weight="bold" fill="#222" text-anchor="middle">27</text>
<text transform="translate(244.10,83.34) scale(0.88,1)" font-size="6.5" font-weight="bold" fill="#222" text-anchor="middle">29</text>
<text transform="translate(249.80,104.34) scale(0.88,1)" font-size="6.5" font-weight="bold" fill="#222" text-anchor="middle">36</text>
<text transform="translate(265.30,104.44) scale(0.88,1)" font-size="6.5" font-weight="bold" fill="#222" text-anchor="middle">37</text>
<text transform="translate(278.20,99.64) scale(0.88,1)" font-size="6.5" font-weight="bold" fill="#222" text-anchor="middle">19</text>
<text transform="translate(230.80,119.34) scale(0.88,1)" font-size="6.5" font-weight="bold" fill="#222" text-anchor="middle">20</text>
<text transform="translate(241.50,127.84) scale(0.88,1)" font-size="6.5" font-weight="bold" fill="#222" text-anchor="middle">35</text>
<text transform="translate(184.90,62.44) scale(0.88,1)" font-size="6.5" font-weight="bold" fill="#dde" text-anchor="middle">9</text>
<text transform="translate(221.80,57.14) scale(0.88,1)" font-size="6.5" font-weight="bold" fill="#222" text-anchor="middle">24</text>
<text transform="translate(230.80,102.45) scale(0.95,1)" font-size="5.7" font-weight="bold" fill="#222" text-anchor="middle">HPC</text>
<text transform="translate(292.50,88.84) scale(0.88,1)" font-size="6.5" font-weight="bold" fill="#222" text-anchor="middle">17</text>
<text transform="translate(276.80,115.75) scale(0.95,1)" font-size="5.7" font-weight="bold" fill="#222" text-anchor="middle">DN</text>
<text transform="translate(258.60,123.65) scale(0.95,1)" font-size="5.7" font-weight="bold" fill="#222" text-anchor="middle">PB</text>
</g>
<g transform="translate(0,171.6)">
<path d="M22.00,92.50 C21.50,92.08 19.83,90.75 19.00,90.00 C18.17,89.25 17.58,88.83 17.00,88.00 C16.42,87.17 15.90,86.30 15.50,85.00 C15.10,83.70 14.80,82.35 14.60,80.20 C14.40,78.05 14.17,74.78 14.30,72.10 C14.43,69.42 14.95,66.23 15.40,64.10 C15.85,61.97 16.05,61.17 17.00,59.30 C17.95,57.43 19.35,55.05 21.10,52.90 C22.85,50.75 25.50,48.55 27.50,46.40 C29.50,44.25 30.77,41.95 33.10,40.00 C35.43,38.05 38.98,36.22 41.50,34.70 C44.02,33.18 46.12,31.80 48.20,30.90 C50.28,30.00 52.18,29.75 54.00,29.30 C55.82,28.85 57.43,28.57 59.10,28.20 C60.77,27.83 62.48,27.38 64.00,27.10 C65.52,26.82 66.53,26.65 68.20,26.50 C69.87,26.35 72.12,26.22 74.00,26.20 C75.88,26.18 77.78,26.12 79.50,26.40 C81.22,26.68 82.80,27.65 84.30,27.90 C85.80,28.15 86.87,27.82 88.50,27.90 C90.13,27.98 92.33,28.05 94.10,28.40 C95.87,28.75 97.45,29.53 99.10,30.00 C100.75,30.47 102.48,30.75 104.00,31.20 C105.52,31.65 106.70,32.15 108.20,32.70 C109.70,33.25 111.48,33.88 113.00,34.50 C114.52,35.12 115.97,35.65 117.30,36.40 C118.63,37.15 119.52,37.60 121.00,39.00 C122.48,40.40 124.53,42.88 126.20,44.80 C127.87,46.72 129.52,48.80 131.00,50.50 C132.48,52.20 133.42,53.47 135.10,55.00 C136.78,56.53 139.65,58.25 141.10,59.70 C142.55,61.15 143.22,61.82 143.80,63.70 C144.38,65.58 144.23,68.95 144.60,71.00 C144.97,73.05 145.67,74.17 146.00,76.00 C146.33,77.83 146.43,79.92 146.60,82.00 C146.77,84.08 147.10,86.75 147.00,88.50 C146.90,90.25 146.50,91.17 146.00,92.50 C145.50,93.83 144.75,95.17 144.00,96.50 C143.25,97.83 142.67,99.42 141.50,100.50 C140.33,101.58 138.75,102.17 137.00,103.00 C135.25,103.83 132.00,105.08 131.00,105.50" fill="none" stroke="#8c8c8c" stroke-width="0.6"/>
<path d="M22.00,92.50 C22.50,92.92 23.83,94.33 25.00,95.00 C26.17,95.67 27.33,96.03 29.00,96.50 C30.67,96.97 33.00,97.47 35.00,97.80 C37.00,98.13 39.33,98.43 41.00,98.50 C42.67,98.57 44.00,98.53 45.00,98.20 C46.00,97.87 46.50,97.20 47.00,96.50 C47.50,95.80 47.50,94.92 48.00,94.00 C48.50,93.08 49.17,92.00 50.00,91.00 C50.83,90.00 52.00,88.75 53.00,88.00 C54.00,87.25 55.00,86.83 56.00,86.50 C57.00,86.17 58.50,86.08 59.00,86.00" fill="none" stroke="#8c8c8c" stroke-width="0.6"/>
<path d="M58.30,87.30 C57.47,87.57 54.60,88.12 53.30,88.90 C52.00,89.68 51.35,90.90 50.50,92.00 C49.65,93.10 49.12,94.25 48.20,95.50 C47.28,96.75 45.73,98.20 45.00,99.50 C44.27,100.80 43.88,101.95 43.80,103.30 C43.72,104.65 43.65,106.27 44.50,107.60 C45.35,108.93 47.32,110.37 48.90,111.30 C50.48,112.23 52.55,112.60 54.00,113.20 C55.45,113.80 56.43,114.27 57.60,114.90 C58.77,115.53 60.02,116.40 61.00,117.00 C61.98,117.60 61.88,118.25 63.50,118.50 C65.12,118.75 68.53,118.73 70.70,118.50 C72.87,118.27 75.53,117.33 76.50,117.10" fill="none" stroke="#8c8c8c" stroke-width="0.6"/>
<path d="M39.50,38.10 C40.05,38.98 41.58,41.85 42.80,43.40 C44.02,44.95 45.45,46.28 46.80,47.40 C48.15,48.52 49.78,48.75 50.90,50.10 C52.02,51.45 52.73,53.60 53.50,55.50 C54.27,57.40 55.17,60.50 55.50,61.50" fill="none" stroke="#8c8c8c" stroke-width="0.6"/>
<path d="M60.50,28.30 C60.63,28.92 60.88,30.72 61.30,32.00 C61.72,33.28 62.42,34.67 63.00,36.00 C63.58,37.33 64.32,38.75 64.80,40.00 C65.28,41.25 65.50,41.92 65.90,43.50 C66.30,45.08 66.80,47.25 67.20,49.50 C67.60,51.75 68.20,54.75 68.30,57.00 C68.40,59.25 67.97,61.00 67.80,63.00 C67.63,65.00 67.28,66.93 67.30,69.00 C67.32,71.07 67.53,73.65 67.90,75.40 C68.27,77.15 69.23,78.82 69.50,79.50" fill="none" stroke="#8c8c8c" stroke-width="0.6"/>
<path d="M84.30,27.90 C83.98,28.52 83.42,30.20 82.40,31.60 C81.38,33.00 79.45,34.90 78.20,36.30 C76.95,37.70 75.60,38.75 74.90,40.00 C74.20,41.25 74.08,42.38 74.00,43.80 C73.92,45.22 74.10,46.95 74.40,48.50 C74.70,50.05 75.45,51.55 75.80,53.10 C76.15,54.65 76.55,55.98 76.50,57.80 C76.45,59.62 76.00,61.97 75.50,64.00 C75.00,66.03 74.17,68.10 73.50,70.00 C72.83,71.90 71.83,74.50 71.50,75.40" fill="none" stroke="#8c8c8c" stroke-width="0.6"/>
<path d="M94.10,28.40 C93.48,29.00 91.80,30.68 90.40,32.00 C89.00,33.32 86.95,34.88 85.70,36.30 C84.45,37.72 83.45,39.25 82.90,40.50 C82.35,41.75 82.25,42.72 82.40,43.80 C82.55,44.88 83.17,45.98 83.80,47.00 C84.43,48.02 85.73,48.88 86.20,49.90 C86.67,50.92 86.75,51.92 86.60,53.10 C86.45,54.28 85.98,55.60 85.30,57.00 C84.62,58.40 82.97,60.75 82.50,61.50" fill="none" stroke="#8c8c8c" stroke-width="0.6"/>
<path d="M83.80,47.00 C84.75,46.85 87.62,46.48 89.50,46.10 C91.38,45.72 93.78,45.32 95.10,44.70 C96.42,44.08 97.25,43.02 97.40,42.40 C97.55,41.78 96.55,41.40 96.00,41.00 C95.45,40.60 94.48,40.63 94.10,40.00 C93.72,39.37 93.47,38.13 93.70,37.20 C93.93,36.27 94.65,35.27 95.50,34.40 C96.35,33.53 97.88,32.55 98.80,32.00 C99.72,31.45 100.63,31.25 101.00,31.10" fill="none" stroke="#8c8c8c" stroke-width="0.6"/>
<path d="M23.50,63.30 C23.37,64.77 22.70,69.02 22.70,72.10 C22.70,75.18 22.95,79.48 23.50,81.80 C24.05,84.12 25.00,84.72 26.00,86.00 C27.00,87.28 28.92,88.92 29.50,89.50" fill="none" stroke="#8c8c8c" stroke-width="0.6"/>
<path d="M39.50,67.40 C39.05,68.52 37.13,71.65 36.80,74.10 C36.47,76.55 37.30,80.03 37.50,82.10 C37.70,84.17 37.92,85.77 38.00,86.50" fill="none" stroke="#8c8c8c" stroke-width="0.6"/>
<path d="M46.00,70.50 C46.37,70.87 48.07,71.43 48.20,72.70 C48.33,73.97 47.00,76.55 46.80,78.10 C46.60,79.65 46.47,81.02 47.00,82.00 C47.53,82.98 48.83,83.58 50.00,84.00 C51.17,84.42 53.33,84.42 54.00,84.50" fill="none" stroke="#8c8c8c" stroke-width="0.6"/>
<path d="M61.50,70.50 C61.73,70.87 62.43,71.22 62.90,72.70 C63.37,74.18 64.28,77.77 64.30,79.40 C64.32,81.03 64.05,81.65 63.00,82.50 C61.95,83.35 59.50,84.17 58.00,84.50 C56.50,84.83 54.67,84.50 54.00,84.50" fill="none" stroke="#8c8c8c" stroke-width="0.6"/>
<path d="M16.00,88.00 C16.67,88.17 18.50,88.83 20.00,89.00 C21.50,89.17 23.42,88.92 25.00,89.00 C26.58,89.08 28.75,89.42 29.50,89.50" fill="none" stroke="#8c8c8c" stroke-width="0.6"/>
<path d="M29.50,90.50 C29.92,90.17 30.58,89.00 32.00,88.50 C33.42,88.00 36.00,87.83 38.00,87.50 C40.00,87.17 41.67,86.92 44.00,86.50 C46.33,86.08 50.17,85.17 52.00,85.00 C53.83,84.83 54.50,85.42 55.00,85.50" fill="none" stroke="#8c8c8c" stroke-width="0.6"/>
<path d="M29.50,90.50 C30.25,91.00 31.92,92.92 34.00,93.50 C36.08,94.08 39.83,94.17 42.00,94.00 C44.17,93.83 45.33,93.67 47.00,92.50 C48.67,91.33 51.17,87.92 52.00,87.00" fill="none" stroke="#8c8c8c" stroke-width="0.6"/>
<path d="M130.80,50.00 C129.68,50.45 126.33,51.80 124.10,52.70 C121.87,53.60 119.42,54.73 117.40,55.40 C115.38,56.07 113.65,56.43 112.00,56.70 C110.35,56.97 108.25,56.95 107.50,57.00" fill="none" stroke="#8c8c8c" stroke-width="0.6"/>
<path d="M117.40,55.40 C117.83,56.28 119.45,58.70 120.00,60.70 C120.55,62.70 120.92,64.93 120.70,67.40 C120.48,69.87 119.62,73.07 118.70,75.50 C117.78,77.93 116.05,79.83 115.20,82.00 C114.35,84.17 113.72,86.33 113.60,88.50 C113.48,90.67 113.87,92.98 114.50,95.00 C115.13,97.02 116.38,99.00 117.40,100.60 C118.42,102.20 120.07,103.93 120.60,104.60" fill="none" stroke="#8c8c8c" stroke-width="0.6"/>
<path d="M142.80,61.40 C142.13,61.52 140.25,61.55 138.80,62.10 C137.35,62.65 135.43,63.37 134.10,64.70 C132.77,66.03 131.68,68.08 130.80,70.10 C129.92,72.12 129.70,74.78 128.80,76.80 C127.90,78.82 126.08,81.20 125.40,82.20 C124.72,83.20 124.25,82.35 124.70,82.80 C125.15,83.25 127.08,84.12 128.10,84.90 C129.12,85.68 130.02,86.38 130.80,87.50 C131.58,88.62 132.18,90.03 132.80,91.60 C133.42,93.17 133.97,95.67 134.50,96.90 C135.03,98.13 135.75,98.65 136.00,99.00" fill="none" stroke="#8c8c8c" stroke-width="0.6"/>
<path d="M55.50,97.40 C55.62,98.38 55.85,101.35 56.20,103.30 C56.55,105.25 56.83,107.43 57.60,109.10 C58.37,110.77 60.27,112.60 60.80,113.30" fill="none" stroke="#8c8c8c" stroke-width="0.6"/>
<path d="M60.80,113.30 C62.45,113.08 67.50,112.35 70.70,112.00 C73.90,111.65 77.08,111.45 80.00,111.20 C82.92,110.95 86.03,110.73 88.20,110.50 C90.37,110.27 91.62,110.30 93.00,109.80 C94.38,109.30 95.42,108.55 96.50,107.50 C97.58,106.45 98.75,105.00 99.50,103.50 C100.25,102.00 100.62,100.25 101.00,98.50 C101.38,96.75 101.63,94.67 101.80,93.00 C101.97,91.33 101.97,89.25 102.00,88.50" fill="none" stroke="#8c8c8c" stroke-width="0.6"/>
<path d="M90.30,126.90 C91.08,127.52 93.43,129.03 95.00,130.60 C96.57,132.17 98.28,134.42 99.70,136.30 C101.12,138.18 102.40,140.50 103.50,141.90 C104.60,143.30 105.22,144.10 106.30,144.70 C107.38,145.30 108.92,145.58 110.00,145.50 C111.08,145.42 112.33,145.27 112.80,144.20 C113.27,143.13 113.03,141.05 112.80,139.10 C112.57,137.15 111.87,134.53 111.40,132.50 C110.93,130.47 110.23,127.83 110.00,126.90" fill="none" stroke="#8c8c8c" stroke-width="0.6"/>
<path d="M79.90,79.50 C80.80,79.12 83.65,77.97 85.30,77.20 C86.95,76.43 88.40,75.55 89.80,74.90 C91.20,74.25 92.42,73.68 93.70,73.30 C94.98,72.92 96.87,72.72 97.50,72.60" fill="none" stroke="#8c8c8c" stroke-width="0.6"/>
<path d="M80.70,82.20 C81.72,81.87 85.02,80.78 86.80,80.20 C88.58,79.62 90.00,79.20 91.40,78.70 C92.80,78.20 94.18,77.83 95.20,77.20 C96.22,76.57 97.12,75.28 97.50,74.90" fill="none" stroke="#8c8c8c" stroke-width="0.6"/>
<path d="M78.00,83.20 C78.45,83.15 79.48,82.77 80.70,82.90 C81.92,83.03 84.53,83.82 85.30,84.00" fill="none" stroke="#8c8c8c" stroke-width="0.6"/>
<path d="M16.50,60.50 C16.65,59.65 18.45,55.00 19.00,54.00 C19.55,53.00 21.40,51.05 22.00,50.50 C22.60,49.95 24.45,48.81 25.00,48.50 C25.55,48.19 27.05,47.35 27.50,47.40 C27.95,47.45 29.07,48.56 29.50,49.00 C29.93,49.44 31.25,51.37 31.80,51.80 C32.35,52.23 34.34,53.05 35.00,53.30 C35.66,53.55 37.63,53.99 38.40,54.30 C39.17,54.61 42.05,55.90 42.70,56.40 C43.35,56.90 44.46,58.78 44.90,59.30 C45.34,59.82 46.66,61.30 47.10,61.60 C47.54,61.90 48.21,62.27 49.30,62.30 C50.39,62.33 56.91,61.73 58.00,61.90 C59.09,62.07 59.87,63.24 60.20,64.00 C60.53,64.76 61.24,68.83 61.30,69.50 C61.36,70.17 61.43,70.53 60.80,70.70 C60.17,70.87 56.26,71.09 55.00,71.20 C53.74,71.31 49.32,71.92 48.20,71.80 C47.08,71.68 44.57,70.51 43.80,70.00 C43.03,69.49 40.95,67.27 40.50,66.70 C40.05,66.13 39.62,64.67 39.30,64.30 C38.98,63.93 38.05,63.17 37.30,63.00 C36.55,62.83 32.93,62.62 31.80,62.60 C30.67,62.58 27.09,62.75 26.00,62.80 C24.91,62.85 21.75,63.13 20.90,63.10 C20.05,63.07 17.94,62.76 17.50,62.50 C17.06,62.24 16.35,61.35 16.50,60.50Z" fill="#3f8a3c" stroke="none" stroke-width="0.45"/>
<path d="M99.00,55.50 C100.33,55.53 102.67,55.58 104.00,56.00 C105.33,56.42 106.08,57.17 107.00,58.00 C107.92,58.83 109.08,60.00 109.50,61.00 C109.92,62.00 109.75,62.92 109.50,64.00 C109.25,65.08 108.75,66.42 108.00,67.50 C107.25,68.58 106.17,69.83 105.00,70.50 C103.83,71.17 102.33,71.17 101.00,71.50 C99.67,71.83 98.50,72.00 97.00,72.50 C95.50,73.00 93.67,73.92 92.00,74.50 C90.33,75.08 88.50,75.33 87.00,76.00 C85.50,76.67 84.00,77.92 83.00,78.50 C82.00,79.08 81.67,79.58 81.00,79.50 C80.33,79.42 79.58,78.75 79.00,78.00 C78.42,77.25 77.83,76.08 77.50,75.00 C77.17,73.92 76.75,72.67 77.00,71.50 C77.25,70.33 78.00,69.25 79.00,68.00 C80.00,66.75 81.50,65.33 83.00,64.00 C84.50,62.67 86.33,61.17 88.00,60.00 C89.67,58.83 91.67,57.70 93.00,57.00 C94.33,56.30 95.00,56.05 96.00,55.80 C97.00,55.55 97.67,55.47 99.00,55.50Z" fill="#a23a23" stroke="none" stroke-width="0.45"/>
<path d="M58.30,87.30 C58.75,86.79 62.83,85.73 64.00,85.40 C65.17,85.07 68.64,84.21 70.00,84.00 C71.36,83.79 76.23,83.26 77.60,83.30 C78.97,83.34 82.63,84.21 83.70,84.40 C84.77,84.59 87.38,85.20 88.30,85.20 C89.22,85.20 92.13,84.59 92.90,84.40 C93.67,84.21 95.47,83.57 96.00,83.30 C96.53,83.03 97.90,82.08 98.20,81.70 C98.50,81.32 98.88,80.11 99.00,79.50 C99.12,78.89 99.40,76.27 99.40,75.60 C99.40,74.93 98.54,73.07 99.00,72.80 C99.46,72.53 102.93,72.86 104.00,72.90 C105.07,72.94 109.36,72.77 109.70,73.20 C110.04,73.63 107.78,76.35 107.40,77.20 C107.02,78.05 106.17,80.86 105.90,81.70 C105.63,82.54 105.07,85.02 104.70,85.60 C104.33,86.18 102.83,87.01 102.20,87.50 C101.57,87.99 99.17,89.82 98.40,90.50 C97.63,91.18 95.39,93.73 94.50,94.30 C93.61,94.87 90.64,96.01 89.50,96.20 C88.36,96.39 84.50,96.39 83.10,96.20 C81.70,96.01 77.03,94.68 75.50,94.30 C73.97,93.92 69.20,92.59 67.80,92.40 C66.40,92.21 62.33,92.59 61.50,92.40 C60.67,92.21 59.82,91.01 59.50,90.50 C59.18,89.99 57.85,87.81 58.30,87.30Z" fill="#ec6b5f" stroke="none" stroke-width="0.45"/>
<path d="M144.50,71.70 C144.95,72.15 145.53,73.42 145.80,75.10 C146.07,76.78 145.92,79.57 146.10,81.80 C146.28,84.03 146.95,86.72 146.90,88.50 C146.85,90.28 146.32,91.62 145.80,92.50 C145.28,93.38 144.70,93.80 143.80,93.80 C142.90,93.80 141.40,93.27 140.40,92.50 C139.40,91.73 138.40,90.43 137.80,89.20 C137.20,87.97 136.80,86.22 136.80,85.10 C136.80,83.98 137.90,83.38 137.80,82.50 C137.70,81.62 136.32,80.70 136.20,79.80 C136.08,78.90 136.40,78.00 137.10,77.10 C137.80,76.20 139.40,75.18 140.40,74.40 C141.40,73.62 142.42,72.85 143.10,72.40 C143.78,71.95 144.05,71.25 144.50,71.70Z" fill="#d4583d" stroke="none" stroke-width="0.45"/>
<path d="M90.10,114.00 C89.97,113.62 93.98,113.87 96.00,113.50 C98.02,113.13 100.05,112.77 102.20,111.80 C104.35,110.83 106.67,108.75 108.90,107.70 C111.13,106.65 113.15,105.93 115.60,105.50 C118.05,105.07 121.48,104.95 123.60,105.10 C125.72,105.25 127.18,105.40 128.30,106.40 C129.42,107.40 129.97,109.32 130.30,111.10 C130.63,112.88 130.73,115.53 130.30,117.10 C129.87,118.67 129.25,119.48 127.70,120.50 C126.15,121.52 123.47,122.42 121.00,123.20 C118.53,123.98 114.92,124.82 112.90,125.20 C110.88,125.58 110.02,126.07 108.90,125.50 C107.78,124.93 107.32,122.97 106.20,121.80 C105.08,120.63 103.77,119.50 102.20,118.50 C100.63,117.50 98.82,116.55 96.80,115.80 C94.78,115.05 90.23,114.38 90.10,114.00Z" fill="#88a878" stroke="#6f8c62" stroke-width="0.45"/>
<path d="M76.00,117.10 C76.68,116.43 79.75,115.62 82.10,115.10 C84.45,114.58 87.65,113.88 90.10,114.00 C92.55,114.12 94.78,115.05 96.80,115.80 C98.82,116.55 100.63,117.50 102.20,118.50 C103.77,119.50 105.08,120.68 106.20,121.80 C107.32,122.92 109.12,124.42 108.90,125.20 C108.68,125.98 106.92,126.35 104.90,126.50 C102.88,126.65 99.48,126.43 96.80,126.10 C94.12,125.77 91.25,125.22 88.80,124.50 C86.35,123.78 83.90,122.70 82.10,121.80 C80.30,120.90 79.02,119.88 78.00,119.10 C76.98,118.32 75.32,117.77 76.00,117.10Z" fill="#dc5a4c" stroke="#b04a3e" stroke-width="0.45"/>
<path d="M43.40,103.30 C49.07,99.88 71.73,86.22 77.40,82.80" fill="none" stroke="#333" stroke-width="0.6"/>
<path d="M90.10,78.10 C99.50,81.43 137.10,94.77 146.50,98.10" fill="none" stroke="#333" stroke-width="0.6"/>
<path d="M94.10,82.10 C100.80,86.23 127.60,102.77 134.30,106.90" fill="none" stroke="#333" stroke-width="0.6"/>
<text transform="translate(43.90,52.74) scale(0.88,1)" font-size="6.5" font-weight="bold" fill="#222" text-anchor="middle">8</text>
<text transform="translate(57.80,46.04) scale(0.88,1)" font-size="6.5" font-weight="bold" fill="#222" text-anchor="middle">6</text>
<text transform="translate(69.80,44.74) scale(0.88,1)" font-size="6.5" font-weight="bold" fill="#222" text-anchor="middle">4</text>
<text transform="translate(78.20,45.34) scale(0.88,1)" font-size="6.5" font-weight="bold" fill="#222" text-anchor="middle">3</text>
<text transform="translate(80.60,50.84) scale(0.88,1)" font-size="6.5" font-weight="bold" fill="#222" text-anchor="middle">1</text>
<text transform="translate(83.40,55.14) scale(0.88,1)" font-size="6.5" font-weight="bold" fill="#222" text-anchor="middle">2</text>
<text transform="translate(89.40,44.34) scale(0.88,1)" font-size="6.5" font-weight="bold" fill="#222" text-anchor="middle">5</text>
<text transform="translate(108.00,48.34) scale(0.88,1)" font-size="6.5" font-weight="bold" fill="#222" text-anchor="middle">7</text>
<text transform="translate(19.40,79.34) scale(0.88,1)" font-size="6.5" font-weight="bold" fill="#222" text-anchor="middle">10</text>
<text transform="translate(31.00,76.04) scale(0.88,1)" font-size="6.5" font-weight="bold" fill="#222" text-anchor="middle">46</text>
<text transform="translate(42.80,81.34) scale(0.88,1)" font-size="6.5" font-weight="bold" fill="#222" text-anchor="middle">45</text>
<text transform="translate(56.50,80.24) scale(0.88,1)" font-size="6.5" font-weight="bold" fill="#222" text-anchor="middle">44</text>
<text transform="translate(74.20,80.64) scale(0.88,1)" font-size="6.5" font-weight="bold" fill="#222" text-anchor="middle">43</text>
<text transform="translate(37.70,105.74) scale(0.88,1)" font-size="6.5" font-weight="bold" fill="#222" text-anchor="middle">52</text>
<text transform="translate(50.60,108.14) scale(0.88,1)" font-size="6.5" font-weight="bold" fill="#222" text-anchor="middle">38</text>
<text transform="translate(77.40,104.44) scale(0.88,1)" font-size="6.5" font-weight="bold" fill="#222" text-anchor="middle">21</text>
<text transform="translate(113.60,68.74) scale(0.88,1)" font-size="6.5" font-weight="bold" fill="#222" text-anchor="middle">39</text>
<text transform="translate(128.90,63.24) scale(0.88,1)" font-size="6.5" font-weight="bold" fill="#222" text-anchor="middle">19</text>
<text transform="translate(136.20,73.44) scale(0.88,1)" font-size="6.5" font-weight="bold" fill="#222" text-anchor="middle">18</text>
<text transform="translate(108.60,99.04) scale(0.88,1)" font-size="6.5" font-weight="bold" fill="#222" text-anchor="middle">37</text>
<text transform="translate(125.00,98.24) scale(0.88,1)" font-size="6.5" font-weight="bold" fill="#222" text-anchor="middle">19</text>
<text transform="translate(139.20,109.14) scale(0.88,1)" font-size="6.5" font-weight="bold" fill="#222" text-anchor="middle">42</text>
<text transform="translate(151.30,101.54) scale(0.88,1)" font-size="6.5" font-weight="bold" fill="#222" text-anchor="middle">41</text>
<text transform="translate(25.90,58.54) scale(0.88,1)" font-size="6.5" font-weight="bold" fill="#111" text-anchor="middle">9</text>
<text transform="translate(52.40,68.84) scale(0.88,1)" font-size="6.5" font-weight="bold" fill="#111" text-anchor="middle">9</text>
<text transform="translate(82.30,93.04) scale(0.88,1)" font-size="6.5" font-weight="bold" fill="#111" text-anchor="middle">22</text>
<text transform="translate(100.80,64.54) scale(0.88,1)" font-size="6.5" font-weight="bold" fill="#111" text-anchor="middle">40</text>
<text transform="translate(143.00,88.74) scale(0.88,1)" font-size="6.5" font-weight="bold" fill="#111" text-anchor="middle">17</text>
<text transform="translate(114.70,116.05) scale(0.95,1)" font-size="5.7" font-weight="bold" fill="#111" text-anchor="middle">DN</text>
<text transform="translate(93.70,123.45) scale(0.95,1)" font-size="5.7" font-weight="bold" fill="#111" text-anchor="middle">PB</text>
<text transform="translate(18.70,103.34) scale(0.88,1)" font-size="6.5" font-weight="bold" fill="#222" text-anchor="middle">11</text>
<text transform="translate(67.70,126.64) scale(0.88,1)" font-size="6.5" font-weight="bold" fill="#222" text-anchor="middle">20</text>
</g>
<g transform="translate(0,171.6)"><path d="M21.1,99.8 L28.3,94.9" stroke="#555" stroke-width="0.5"/><path d="M66.9,114.2 L66.9,119.9" stroke="#777" stroke-width="0.5"/></g>
<g transform="translate(0,171.6)">
<path d="M182.10,92.30 C181.73,91.77 180.53,90.17 179.90,89.10 C179.27,88.03 178.65,87.15 178.30,85.90 C177.95,84.65 178.07,83.03 177.80,81.60 C177.53,80.17 177.15,78.73 176.70,77.30 C176.25,75.87 175.45,74.43 175.10,73.00 C174.75,71.57 174.62,70.03 174.60,68.70 C174.58,67.37 174.70,66.20 175.00,65.00 C175.30,63.80 175.63,63.08 176.40,61.50 C177.17,59.92 178.12,57.58 179.60,55.50 C181.08,53.42 183.22,51.00 185.30,49.00 C187.38,47.00 189.82,45.20 192.10,43.50 C194.38,41.80 196.48,40.28 199.00,38.80 C201.52,37.32 204.23,35.97 207.20,34.60 C210.17,33.23 213.60,31.60 216.80,30.60 C220.00,29.60 223.87,28.98 226.40,28.60 C228.93,28.22 230.07,28.15 232.00,28.30 C233.93,28.45 234.98,29.05 238.00,29.50 C241.02,29.95 247.05,30.42 250.10,31.00 C253.15,31.58 254.22,32.45 256.30,33.00 C258.38,33.55 260.30,33.67 262.60,34.30 C264.90,34.93 267.58,35.85 270.10,36.80 C272.62,37.75 275.60,38.95 277.70,40.00 C279.80,41.05 281.23,41.95 282.70,43.10 C284.17,44.25 285.23,45.63 286.50,46.90 C287.77,48.17 289.30,49.60 290.30,50.70 C291.30,51.80 291.65,52.45 292.50,53.50 C293.35,54.55 294.30,55.78 295.40,57.00 C296.50,58.22 298.05,59.53 299.10,60.80 C300.15,62.07 301.07,63.33 301.70,64.60 C302.33,65.87 302.58,67.25 302.90,68.40 C303.22,69.55 303.22,70.45 303.60,71.50 C303.98,72.55 304.63,73.62 305.20,74.70 C305.77,75.78 306.48,76.95 307.00,78.00 C307.52,79.05 308.05,80.08 308.30,81.00 C308.55,81.92 308.57,82.13 308.50,83.50 C308.43,84.87 308.37,87.27 307.90,89.20 C307.43,91.13 306.55,93.62 305.70,95.10 C304.85,96.58 304.03,97.37 302.80,98.10 C301.57,98.83 299.93,99.02 298.30,99.50 C296.67,99.98 294.38,100.33 293.00,101.00 C291.62,101.67 290.50,103.08 290.00,103.50" fill="none" stroke="#8c8c8c" stroke-width="0.6"/>
<path d="M182.10,92.30 C182.82,92.75 184.80,94.28 186.40,95.00 C188.00,95.72 189.40,96.18 191.70,96.60 C194.00,97.02 197.45,97.47 200.20,97.50 C202.95,97.53 205.52,97.25 208.20,96.80 C210.88,96.35 213.83,95.70 216.30,94.80 C218.77,93.90 221.45,92.63 223.00,91.40 C224.55,90.17 225.38,88.73 225.60,87.40 C225.82,86.07 224.97,84.97 224.30,83.40 C223.63,81.83 222.27,79.78 221.60,78.00 C220.93,76.22 220.52,73.58 220.30,72.70" fill="none" stroke="#8c8c8c" stroke-width="0.6"/>
<path d="M220.50,93.30 C219.90,93.70 218.30,95.00 216.90,95.70 C215.50,96.40 213.72,96.70 212.10,97.50 C210.48,98.30 208.42,99.18 207.20,100.50 C205.98,101.82 205.00,103.78 204.80,105.40 C204.60,107.02 204.98,108.60 206.00,110.20 C207.02,111.80 208.88,113.70 210.90,115.00 C212.92,116.30 215.48,117.18 218.10,118.00 C220.72,118.82 223.98,119.48 226.60,119.90 C229.22,120.32 231.38,120.50 233.80,120.50 C236.22,120.50 239.52,120.18 241.10,119.90 C242.68,119.62 242.93,118.98 243.30,118.80" fill="none" stroke="#8c8c8c" stroke-width="0.6"/>
<path d="M196.80,40.60 C197.25,41.03 198.05,42.23 199.50,43.20 C200.95,44.17 203.15,45.42 205.50,46.40 C207.85,47.38 211.37,48.43 213.60,49.10 C215.83,49.77 218.02,50.18 218.90,50.40" fill="none" stroke="#8c8c8c" stroke-width="0.6"/>
<path d="M216.30,32.40 C216.52,33.40 217.17,36.50 217.60,38.40 C218.03,40.30 218.23,42.02 218.90,43.80 C219.57,45.58 220.92,47.90 221.60,49.10 C222.28,50.30 222.77,50.68 223.00,51.00" fill="none" stroke="#8c8c8c" stroke-width="0.6"/>
<path d="M194.50,54.00 C195.45,53.75 198.13,53.10 200.20,52.50 C202.27,51.90 204.67,50.88 206.90,50.40 C209.13,49.92 211.08,49.63 213.60,49.60 C216.12,49.57 219.27,50.17 222.00,50.20 C224.73,50.23 227.77,49.77 230.00,49.80 C232.23,49.83 234.50,50.30 235.40,50.40" fill="none" stroke="#8c8c8c" stroke-width="0.6"/>
<path d="M238.00,30.00 C237.78,31.40 237.03,35.67 236.70,38.40 C236.37,41.13 236.22,44.40 236.00,46.40 C235.78,48.40 235.50,49.73 235.40,50.40" fill="none" stroke="#8c8c8c" stroke-width="0.6"/>
<path d="M250.10,31.00 C250.32,31.78 251.40,33.80 251.40,35.70 C251.40,37.60 250.98,40.62 250.10,42.40 C249.22,44.18 248.12,45.28 246.10,46.40 C244.08,47.52 239.78,48.43 238.00,49.10 C236.22,49.77 235.83,50.18 235.40,50.40" fill="none" stroke="#8c8c8c" stroke-width="0.6"/>
<path d="M251.40,31.70 C252.30,31.92 255.68,31.88 256.80,33.00 C257.92,34.12 258.10,36.60 258.10,38.40 C258.10,40.20 257.92,42.57 256.80,43.80 C255.68,45.03 252.30,45.47 251.40,45.80" fill="none" stroke="#8c8c8c" stroke-width="0.6"/>
<path d="M235.40,50.60 C237.00,49.85 241.73,46.72 245.00,46.10 C248.27,45.48 252.07,46.67 255.00,46.90 C257.93,47.13 260.08,46.97 262.60,47.50 C265.12,48.03 268.00,48.93 270.10,50.10 C272.20,51.27 273.83,52.72 275.20,54.50 C276.57,56.28 277.67,58.92 278.30,60.80 C278.93,62.68 279.00,64.10 279.00,65.80 C279.00,67.50 278.42,70.13 278.30,71.00" fill="none" stroke="#8c8c8c" stroke-width="0.6"/>
<path d="M234.60,54.00 C236.33,54.03 241.55,53.95 245.00,54.20 C248.45,54.45 252.37,54.78 255.30,55.50 C258.23,56.22 260.55,57.17 262.60,58.50 C264.65,59.83 266.28,61.83 267.60,63.50 C268.92,65.17 269.93,66.83 270.50,68.50 C271.07,70.17 270.92,72.67 271.00,73.50" fill="none" stroke="#8c8c8c" stroke-width="0.6"/>
<path d="M233.00,58.70 C234.87,58.85 240.37,59.02 244.20,59.60 C248.03,60.18 252.57,60.97 256.00,62.20 C259.43,63.43 262.55,65.12 264.80,67.00 C267.05,68.88 268.47,71.42 269.50,73.50 C270.53,75.58 270.75,78.50 271.00,79.50" fill="none" stroke="#8c8c8c" stroke-width="0.6"/>
<path d="M220.60,80.00 C220.42,79.17 219.50,76.53 219.50,75.00 C219.50,73.47 219.68,71.88 220.60,70.80 C221.52,69.72 223.52,69.05 225.00,68.50 C226.48,67.95 226.30,67.75 229.50,67.50 C232.70,67.25 240.03,66.62 244.20,67.00 C248.37,67.38 251.55,68.37 254.50,69.80 C257.45,71.23 260.43,73.60 261.90,75.60 C263.37,77.60 263.07,80.77 263.30,81.80" fill="none" stroke="#8c8c8c" stroke-width="0.6"/>
<path d="M212.50,80.30 C212.00,79.83 210.15,78.63 209.50,77.50 C208.85,76.37 208.52,74.78 208.60,73.50 C208.68,72.22 209.18,70.92 210.00,69.80 C210.82,68.68 211.98,67.63 213.50,66.80 C215.02,65.97 216.43,65.40 219.10,64.80 C221.77,64.20 225.32,63.45 229.50,63.20 C233.68,62.95 239.78,62.80 244.20,63.30 C248.62,63.80 252.82,64.83 256.00,66.20 C259.18,67.57 261.47,69.38 263.30,71.50 C265.13,73.62 266.38,77.67 267.00,78.90" fill="none" stroke="#8c8c8c" stroke-width="0.6"/>
<path d="M270.10,78.00 C270.75,77.97 272.53,77.88 274.00,77.80 C275.47,77.72 277.30,77.93 278.90,77.50 C280.50,77.07 281.73,75.82 283.60,75.20 C285.47,74.58 287.77,74.07 290.10,73.80 C292.43,73.53 295.40,73.53 297.60,73.60 C299.80,73.67 301.98,74.02 303.30,74.20 C304.62,74.38 305.13,74.62 305.50,74.70" fill="none" stroke="#8c8c8c" stroke-width="0.6"/>
<path d="M261.50,70.00 C262.17,70.90 264.62,73.62 265.50,75.40 C266.38,77.18 266.92,78.92 266.80,80.70 C266.68,82.48 265.80,84.65 264.80,86.10 C263.80,87.55 262.37,88.52 260.80,89.40 C259.23,90.28 257.63,90.83 255.40,91.40 C253.17,91.97 249.18,92.78 247.40,92.80 C245.62,92.82 245.15,91.72 244.70,91.50" fill="none" stroke="#8c8c8c" stroke-width="0.6"/>
<path d="M266.20,70.00 C266.75,71.12 268.83,74.95 269.50,76.70 C270.17,78.45 269.73,79.58 270.20,80.50 C270.67,81.42 271.95,81.92 272.30,82.20" fill="none" stroke="#8c8c8c" stroke-width="0.6"/>
<path d="M302.30,96.30 C302.00,96.30 301.43,96.00 300.50,96.30 C299.57,96.60 297.95,97.63 296.70,98.10 C295.45,98.57 293.93,99.25 293.00,99.10 C292.07,98.95 292.20,97.98 291.10,97.20 C290.00,96.42 288.12,95.18 286.40,94.40 C284.68,93.62 282.70,93.40 280.80,92.50 C278.90,91.60 276.73,90.17 275.00,89.00 C273.27,87.83 271.17,86.08 270.40,85.50" fill="none" stroke="#8c8c8c" stroke-width="0.6"/>
<path d="M266.20,90.10 C267.53,91.22 272.42,94.35 274.20,96.80 C275.98,99.25 276.45,103.47 276.90,104.80" fill="none" stroke="#8c8c8c" stroke-width="0.6"/>
<path d="M255.40,92.80 C255.63,94.13 256.45,98.35 256.80,100.80 C257.15,103.25 257.50,105.05 257.50,107.50 C257.50,109.95 256.92,114.17 256.80,115.50" fill="none" stroke="#8c8c8c" stroke-width="0.6"/>
<path d="M247.40,92.80 C247.18,93.92 246.77,96.60 246.10,99.50 C245.43,102.40 243.85,108.42 243.40,110.20" fill="none" stroke="#8c8c8c" stroke-width="0.6"/>
<path d="M215.70,109.00 C216.50,109.60 218.28,111.90 220.50,112.60 C222.72,113.30 226.38,113.20 229.00,113.20 C231.62,113.20 235.00,112.70 236.20,112.60" fill="none" stroke="#8c8c8c" stroke-width="0.6"/>
<path d="M258.10,126.80 C258.65,127.68 260.18,130.32 261.40,132.10 C262.62,133.88 264.05,135.70 265.40,137.50 C266.75,139.30 268.38,141.78 269.50,142.90 C270.62,144.02 271.10,143.98 272.10,144.20 C273.10,144.42 274.72,144.65 275.50,144.20 C276.28,143.75 276.58,142.83 276.80,141.50 C277.02,140.17 277.02,138.20 276.80,136.20 C276.58,134.20 275.93,131.30 275.50,129.50 C275.07,127.70 274.42,126.08 274.20,125.40" fill="none" stroke="#8c8c8c" stroke-width="0.6"/>
<path d="M177.80,83.70 C178.68,83.43 181.13,82.82 183.10,82.10 C185.07,81.38 187.35,80.30 189.60,79.40 C191.85,78.50 194.53,77.52 196.60,76.70 C198.67,75.88 201.10,74.87 202.00,74.50" fill="none" stroke="#8c8c8c" stroke-width="0.6"/>
<path d="M197.50,82.10 C199.07,82.53 203.77,84.03 206.90,84.70 C210.03,85.37 214.30,86.53 216.30,86.10 C218.30,85.67 218.68,83.67 218.90,82.10 C219.12,80.53 217.82,77.60 217.60,76.70" fill="none" stroke="#8c8c8c" stroke-width="0.6"/>
<path d="M185.60,51.20 C185.60,51.20 194.30,53.70 194.30,53.70 C194.30,53.70 194.80,58.00 194.80,58.00 C194.80,58.00 195.00,62.40 195.00,62.40 C195.00,62.40 193.00,66.00 193.00,66.00 C193.00,66.00 191.10,69.60 191.10,69.60 C191.10,69.60 186.00,68.50 186.00,68.50 C186.00,68.50 181.00,67.10 181.00,67.10 C181.00,67.10 176.60,65.60 176.60,65.60 C176.60,65.60 179.00,60.00 179.00,60.00 C179.00,60.00 182.00,55.00 182.00,55.00 C182.00,55.00 185.60,51.20 185.60,51.20Z" fill="#3f8a3c" stroke="none"/>
<path d="M220.80,51.40 C219.38,51.67 217.93,51.95 216.50,52.50 C215.07,53.05 213.63,53.90 212.20,54.70 C210.77,55.50 209.15,56.32 207.90,57.30 C206.65,58.28 205.60,59.43 204.70,60.60 C203.80,61.77 202.95,62.97 202.50,64.30 C202.05,65.63 202.00,67.17 202.00,68.60 C202.00,70.03 202.15,71.65 202.50,72.90 C202.85,74.15 203.38,75.20 204.10,76.10 C204.82,77.00 205.63,77.77 206.80,78.30 C207.97,78.83 210.12,79.30 211.10,79.30 C212.08,79.30 212.70,78.65 212.70,78.30 C212.70,77.95 211.90,77.75 211.10,77.20 C210.30,76.65 208.80,75.90 207.90,75.00 C207.00,74.10 206.07,73.05 205.70,71.80 C205.33,70.55 205.43,68.75 205.70,67.50 C205.97,66.25 206.58,65.18 207.30,64.30 C208.02,63.42 208.83,62.92 210.00,62.20 C211.17,61.48 212.68,60.55 214.30,60.00 C215.92,59.45 217.92,59.08 219.70,58.90 C221.48,58.72 223.22,58.90 225.00,58.90 C226.78,58.90 229.05,59.17 230.40,58.90 C231.75,58.63 232.47,58.18 233.10,57.30 C233.73,56.42 234.20,54.67 234.20,53.60 C234.20,52.53 233.92,51.43 233.10,50.90 C232.28,50.37 230.65,50.40 229.30,50.40 C227.95,50.40 226.42,50.73 225.00,50.90 C223.58,51.07 222.22,51.13 220.80,51.40Z" fill="#d24b36" stroke="none" stroke-width="0.45"/>
<path d="M218.70,98.10 C219.30,97.10 220.38,96.00 221.70,95.10 C223.02,94.20 224.98,93.20 226.60,92.70 C228.22,92.20 229.80,92.10 231.40,92.10 C233.00,92.10 234.78,92.80 236.20,92.70 C237.62,92.60 238.28,91.80 239.90,91.50 C241.52,91.20 245.10,90.60 245.90,90.90 C246.70,91.20 245.10,92.10 244.70,93.30 C244.30,94.50 243.90,96.50 243.50,98.10 C243.10,99.70 243.12,101.58 242.30,102.90 C241.48,104.22 240.02,105.18 238.60,106.00 C237.18,106.82 235.60,107.40 233.80,107.80 C232.00,108.20 229.82,108.50 227.80,108.40 C225.78,108.30 223.22,107.90 221.70,107.20 C220.18,106.50 219.30,105.22 218.70,104.20 C218.10,103.18 218.10,102.12 218.10,101.10 C218.10,100.08 218.10,99.10 218.70,98.10Z" fill="#b0d496" stroke="none" stroke-width="0.45"/>
<path d="M272.30,82.20 C272.30,81.65 273.42,80.77 274.20,80.30 C274.98,79.83 275.90,79.47 277.00,79.40 C278.10,79.33 279.38,79.67 280.80,79.90 C282.22,80.13 283.63,80.55 285.50,80.80 C287.37,81.05 289.67,81.25 292.00,81.40 C294.33,81.55 297.00,81.60 299.50,81.70 C302.00,81.80 305.52,81.68 307.00,82.00 C308.48,82.32 308.23,82.78 308.40,83.60 C308.57,84.42 308.38,85.57 308.00,86.90 C307.62,88.23 306.73,90.20 306.10,91.60 C305.47,93.00 304.83,94.52 304.20,95.30 C303.57,96.08 302.85,96.45 302.30,96.30 C301.75,96.15 301.37,95.18 300.90,94.40 C300.43,93.62 300.52,92.15 299.50,91.60 C298.48,91.05 296.37,91.27 294.80,91.10 C293.23,90.93 291.50,90.98 290.10,90.60 C288.70,90.22 287.65,89.57 286.40,88.80 C285.15,88.03 284.00,86.78 282.60,86.00 C281.20,85.22 279.40,84.50 278.00,84.10 C276.60,83.70 275.15,83.92 274.20,83.60 C273.25,83.28 272.30,82.75 272.30,82.20Z" fill="#dd6a50" stroke="none" stroke-width="0.45"/>
<path d="M261.40,116.10 C261.40,115.32 265.02,113.82 266.80,112.70 C268.58,111.58 270.10,110.28 272.10,109.40 C274.10,108.52 276.57,108.07 278.80,107.40 C281.03,106.73 283.70,105.97 285.50,105.40 C287.30,104.83 288.37,103.90 289.60,104.00 C290.83,104.10 292.13,104.88 292.90,106.00 C293.67,107.12 294.08,109.02 294.20,110.70 C294.32,112.38 294.37,114.53 293.60,116.10 C292.83,117.67 291.17,119.10 289.60,120.10 C288.03,121.10 286.22,121.55 284.20,122.10 C282.18,122.65 279.28,123.07 277.50,123.40 C275.72,123.73 274.62,124.65 273.50,124.10 C272.38,123.55 271.92,121.22 270.80,120.10 C269.68,118.98 268.37,118.07 266.80,117.40 C265.23,116.73 261.40,116.88 261.40,116.10Z" fill="#8cb07c" stroke="#6f8c62" stroke-width="0.45"/>
<path d="M243.30,118.80 C243.97,118.40 246.10,117.82 248.00,117.40 C249.90,116.98 252.47,116.52 254.70,116.30 C256.93,116.08 259.38,115.92 261.40,116.10 C263.42,116.28 265.23,116.73 266.80,117.40 C268.37,118.07 269.80,118.98 270.80,120.10 C271.80,121.22 272.58,122.98 272.80,124.10 C273.02,125.22 272.65,126.13 272.10,126.80 C271.55,127.47 270.83,127.98 269.50,128.10 C268.17,128.22 265.88,127.83 264.10,127.50 C262.32,127.17 260.58,126.67 258.80,126.10 C257.02,125.53 255.20,124.88 253.40,124.10 C251.60,123.32 249.57,122.12 248.00,121.40 C246.43,120.68 244.78,120.23 244.00,119.80 C243.22,119.37 242.63,119.20 243.30,118.80Z" fill="#dc5a4c" stroke="#b04a3e" stroke-width="0.45"/>
<path d="M176.70,90.80 C181.68,87.30 201.62,73.30 206.60,69.80" fill="none" stroke="#333" stroke-width="0.6"/>
<path d="M195.50,101.10 C200.07,99.30 218.33,92.10 222.90,90.30" fill="none" stroke="#333" stroke-width="0.6"/>
<path d="M235.40,83.40 C236.62,84.40 241.48,88.40 242.70,89.40" fill="none" stroke="#333" stroke-width="0.6"/>
<path d="M248.80,82.10 C250.13,82.53 255.47,84.27 256.80,84.70" fill="none" stroke="#333" stroke-width="0.6"/>
<path d="M251.20,77.80 C251.90,78.52 253.98,81.25 255.40,82.10 C256.82,82.95 258.98,82.77 259.70,82.90" fill="none" stroke="#333" stroke-width="0.6"/>
<path d="M291.70,51.60 C288.13,56.25 273.87,74.85 270.30,79.50" fill="none" stroke="#333" stroke-width="0.6"/>
<path d="M239.50,106.80 C239.62,109.23 240.08,118.97 240.20,121.40" fill="none" stroke="#333" stroke-width="0.6"/>
<text transform="translate(228.30,36.34) scale(0.88,1)" font-size="6.5" font-weight="bold" fill="#222" text-anchor="middle">4</text>
<text transform="translate(212.20,43.64) scale(0.88,1)" font-size="6.5" font-weight="bold" fill="#222" text-anchor="middle">6</text>
<text transform="translate(196.20,51.04) scale(0.88,1)" font-size="6.5" font-weight="bold" fill="#222" text-anchor="middle">8</text>
<text transform="translate(197.50,70.44) scale(0.88,1)" font-size="6.5" font-weight="bold" fill="#222" text-anchor="middle">32</text>
<text transform="translate(184.10,76.24) scale(0.88,1)" font-size="6.5" font-weight="bold" fill="#222" text-anchor="middle">10</text>
<text transform="translate(192.10,90.44) scale(0.88,1)" font-size="6.5" font-weight="bold" fill="#222" text-anchor="middle">11</text>
<text transform="translate(172.10,94.74) scale(0.88,1)" font-size="6.5" font-weight="bold" fill="#222" text-anchor="middle">33</text>
<text transform="translate(190.10,104.04) scale(0.88,1)" font-size="6.5" font-weight="bold" fill="#222" text-anchor="middle">25</text>
<text transform="translate(211.50,108.74) scale(0.88,1)" font-size="6.5" font-weight="bold" fill="#222" text-anchor="middle">38</text>
<text transform="translate(241.40,35.64) scale(0.88,1)" font-size="6.5" font-weight="bold" fill="#222" text-anchor="middle">3</text>
<text transform="translate(244.10,37.64) scale(0.88,1)" font-size="6.5" font-weight="bold" fill="#222" text-anchor="middle">1</text>
<text transform="translate(246.70,39.64) scale(0.88,1)" font-size="6.5" font-weight="bold" fill="#222" text-anchor="middle">2</text>
<text transform="translate(253.40,41.64) scale(0.88,1)" font-size="6.5" font-weight="bold" fill="#222" text-anchor="middle">5</text>
<text transform="translate(274.50,48.04) scale(0.88,1)" font-size="6.5" font-weight="bold" fill="#222" text-anchor="middle">7</text>
<text transform="translate(265.60,58.24) scale(0.88,1)" font-size="6.5" font-weight="bold" fill="#222" text-anchor="middle">31</text>
<text transform="translate(253.90,61.24) scale(0.88,1)" font-size="6.5" font-weight="bold" fill="#222" text-anchor="middle">23</text>
<text transform="translate(248.90,76.24) scale(0.88,1)" font-size="6.5" font-weight="bold" fill="#222" text-anchor="middle">26</text>
<text transform="translate(296.80,51.64) scale(0.88,1)" font-size="6.5" font-weight="bold" fill="#222" text-anchor="middle">30</text>
<text transform="translate(293.30,69.94) scale(0.88,1)" font-size="6.5" font-weight="bold" fill="#222" text-anchor="middle">19</text>
<text transform="translate(293.00,79.94) scale(0.88,1)" font-size="6.5" font-weight="bold" fill="#222" text-anchor="middle">18</text>
<text transform="translate(294.40,97.24) scale(0.88,1)" font-size="6.5" font-weight="bold" fill="#222" text-anchor="middle">18</text>
<text transform="translate(233.30,83.34) scale(0.88,1)" font-size="6.5" font-weight="bold" fill="#222" text-anchor="middle">27</text>
<text transform="translate(244.10,83.34) scale(0.88,1)" font-size="6.5" font-weight="bold" fill="#222" text-anchor="middle">29</text>
<text transform="translate(249.80,104.34) scale(0.88,1)" font-size="6.5" font-weight="bold" fill="#222" text-anchor="middle">36</text>
<text transform="translate(265.30,104.44) scale(0.88,1)" font-size="6.5" font-weight="bold" fill="#222" text-anchor="middle">37</text>
<text transform="translate(278.20,99.64) scale(0.88,1)" font-size="6.5" font-weight="bold" fill="#222" text-anchor="middle">19</text>
<text transform="translate(230.80,119.34) scale(0.88,1)" font-size="6.5" font-weight="bold" fill="#222" text-anchor="middle">20</text>
<text transform="translate(241.50,127.84) scale(0.88,1)" font-size="6.5" font-weight="bold" fill="#222" text-anchor="middle">35</text>
<text transform="translate(184.90,62.44) scale(0.88,1)" font-size="6.5" font-weight="bold" fill="#111" text-anchor="middle">9</text>
<text transform="translate(221.80,57.14) scale(0.88,1)" font-size="6.5" font-weight="bold" fill="#111" text-anchor="middle">24</text>
<text transform="translate(230.80,102.45) scale(0.95,1)" font-size="5.7" font-weight="bold" fill="#111" text-anchor="middle">HPC</text>
<text transform="translate(292.50,88.84) scale(0.88,1)" font-size="6.5" font-weight="bold" fill="#111" text-anchor="middle">17</text>
<text transform="translate(276.80,115.75) scale(0.95,1)" font-size="5.7" font-weight="bold" fill="#111" text-anchor="middle">DN</text>
<text transform="translate(258.60,123.65) scale(0.95,1)" font-size="5.7" font-weight="bold" fill="#111" text-anchor="middle">PB</text>
</g>
<text x="5" y="19.9" font-size="14.5" font-weight="bold" fill="#111" text-anchor="start" >A</text><text x="123" y="10.9" font-size="9" font-weight="bold" fill="#111" text-anchor="start" >Metabolites</text><text x="319.5" y="19.2" font-size="14.5" font-weight="bold" fill="#111" text-anchor="start" >B</text><text x="397" y="14" font-size="9" font-weight="bold" fill="#111" text-anchor="start" >Number of Altered Metabolites</text><text x="5.5" y="195.2" font-size="14.5" font-weight="bold" fill="#111" text-anchor="start" >C</text><text x="123" y="195" font-size="9" font-weight="bold" fill="#111" text-anchor="start" >Metabolic Regulation</text><text x="318.8" y="192" font-size="14.5" font-weight="bold" fill="#111" text-anchor="start" >D</text><line x1="361.5" y1="19" x2="361.5" y2="159" stroke="#e8e8e8" stroke-width="0.6"/><rect x="361.78" y="19.00" width="184.43" height="16.2" fill="#066ab4"/><text x="454" y="29.9" font-size="7.4" font-weight="bold" fill="#fff" text-anchor="middle" >118</text><text x="337.3" y="34.1" font-size="7.9" font-weight="bold" fill="#111" text-anchor="start" >BA 9</text><rect x="427.43" y="36.30" width="53.14" height="16.2" fill="#066ab4"/><text x="454" y="47.2" font-size="7.4" font-weight="bold" fill="#fff" text-anchor="middle" >34</text><text x="337.3" y="51.83" font-size="7.9" font-weight="bold" fill="#111" text-anchor="start" >BA 17</text><rect x="421.96" y="53.60" width="64.08" height="16.2" fill="#066ab4"/><text x="454" y="64.5" font-size="7.4" font-weight="bold" fill="#fff" text-anchor="middle" >41</text><text x="337.3" y="69.56" font-size="7.9" font-weight="bold" fill="#111" text-anchor="start" >BA 22</text><rect x="435.24" y="70.90" width="37.51" height="16.2" fill="#066ab4"/><text x="454" y="81.8" font-size="7.4" font-weight="bold" fill="#fff" text-anchor="middle" >24</text><text x="337.3" y="87.29" font-size="7.9" font-weight="bold" fill="#111" text-anchor="start" >BA 24</text><rect x="424.30" y="88.20" width="59.39" height="16.2" fill="#066ab4"/><text x="454" y="99.1" font-size="7.4" font-weight="bold" fill="#fff" text-anchor="middle" >38</text><text x="337.3" y="105.02" font-size="7.9" font-weight="bold" fill="#111" text-anchor="start" >BA 40</text><rect x="432.90" y="105.50" width="42.20" height="16.2" fill="#066ab4"/><text x="454" y="116.4" font-size="7.4" font-weight="bold" fill="#fff" text-anchor="middle" >27</text><text x="337.3" y="122.75" font-size="7.9" font-weight="bold" fill="#111" text-anchor="start" >DN</text><rect x="416.49" y="122.80" width="75.02" height="16.2" fill="#066ab4"/><text x="454" y="133.7" font-size="7.4" font-weight="bold" fill="#fff" text-anchor="middle" >48</text><text x="337.3" y="140.48" font-size="7.9" font-weight="bold" fill="#111" text-anchor="start" >HPC</text><rect x="433.68" y="140.10" width="40.64" height="16.2" fill="#066ab4"/><text x="454" y="151.0" font-size="7.4" font-weight="bold" fill="#fff" text-anchor="middle" >26</text><text x="337.3" y="158.21" font-size="7.9" font-weight="bold" fill="#111" text-anchor="start" >PB</text><line x1="361.60" y1="198" x2="361.60" y2="343" stroke="#ececec" stroke-width="0.6"/><line x1="379.90" y1="198" x2="379.90" y2="343" stroke="#ececec" stroke-width="0.6"/><line x1="398.20" y1="198" x2="398.20" y2="343" stroke="#ececec" stroke-width="0.6"/><line x1="416.50" y1="198" x2="416.50" y2="343" stroke="#ececec" stroke-width="0.6"/><line x1="434.80" y1="198" x2="434.80" y2="343" stroke="#ececec" stroke-width="0.6"/><line x1="471.40" y1="198" x2="471.40" y2="343" stroke="#ececec" stroke-width="0.6"/><line x1="489.70" y1="198" x2="489.70" y2="343" stroke="#ececec" stroke-width="0.6"/><line x1="508.00" y1="198" x2="508.00" y2="343" stroke="#ececec" stroke-width="0.6"/><line x1="526.30" y1="198" x2="526.30" y2="343" stroke="#ececec" stroke-width="0.6"/><line x1="544.60" y1="198" x2="544.60" y2="343" stroke="#ececec" stroke-width="0.6"/><rect x="443.95" y="203.20" width="9.15" height="6.6" fill="#ed1c24"/><rect x="453.10" y="203.20" width="82.35" height="6.6" fill="#8cc63e"/><text x="337.6" y="209.3" font-size="7.9" font-weight="bold" fill="#111" text-anchor="start" >BA 9</text><rect x="393.62" y="220.43" width="59.48" height="6.6" fill="#ed1c24"/><rect x="453.10" y="220.43" width="32.02" height="6.6" fill="#8cc63e"/><text x="337.6" y="227.0" font-size="7.9" font-weight="bold" fill="#111" text-anchor="start" >BA 17</text><rect x="399.12" y="237.66" width="53.98" height="6.6" fill="#ed1c24"/><rect x="453.10" y="237.66" width="37.52" height="6.6" fill="#8cc63e"/><text x="337.6" y="244.7" font-size="7.9" font-weight="bold" fill="#111" text-anchor="start" >BA 22</text><rect x="388.13" y="254.89" width="64.97" height="6.6" fill="#ed1c24"/><rect x="453.10" y="254.89" width="26.54" height="6.6" fill="#8cc63e"/><text x="337.6" y="262.4" font-size="7.9" font-weight="bold" fill="#111" text-anchor="start" >BA 24</text><rect x="373.50" y="272.12" width="79.61" height="6.6" fill="#ed1c24"/><rect x="453.10" y="272.12" width="11.89" height="6.6" fill="#8cc63e"/><text x="337.6" y="280.1" font-size="7.9" font-weight="bold" fill="#111" text-anchor="start" >BA 40</text><rect x="428.40" y="289.35" width="24.71" height="6.6" fill="#ed1c24"/><rect x="453.10" y="289.35" width="57.65" height="6.6" fill="#8cc63e"/><text x="337.6" y="297.8" font-size="7.9" font-weight="bold" fill="#111" text-anchor="start" >DN</text><rect x="416.50" y="306.58" width="36.60" height="6.6" fill="#ed1c24"/><rect x="453.10" y="306.58" width="54.90" height="6.6" fill="#8cc63e"/><text x="337.6" y="315.5" font-size="7.9" font-weight="bold" fill="#111" text-anchor="start" >HPC</text><rect x="389.97" y="323.81" width="63.14" height="6.6" fill="#ed1c24"/><rect x="453.10" y="323.81" width="28.37" height="6.6" fill="#8cc63e"/><text x="337.6" y="333.2" font-size="7.9" font-weight="bold" fill="#111" text-anchor="start" >PB</text><text x="361.9" y="354.4" font-size="5.6" font-weight="bold" fill="#000" text-anchor="middle" >-100</text><text x="380" y="354.4" font-size="5.6" font-weight="bold" fill="#000" text-anchor="middle" >-80</text><text x="397.4" y="354.4" font-size="5.6" font-weight="bold" fill="#000" text-anchor="middle" >-60</text><text x="416.4" y="354.4" font-size="5.6" font-weight="bold" fill="#000" text-anchor="middle" >-40</text><text x="435.6" y="354.4" font-size="5.6" font-weight="bold" fill="#000" text-anchor="middle" >-20</text><text x="453.2" y="354.4" font-size="5.6" font-weight="bold" fill="#000" text-anchor="middle" >0</text><text x="471.7" y="354.4" font-size="5.6" font-weight="bold" fill="#000" text-anchor="middle" >20</text><text x="490.2" y="354.4" font-size="5.6" font-weight="bold" fill="#000" text-anchor="middle" >40</text><text x="508.2" y="354.4" font-size="5.6" font-weight="bold" fill="#000" text-anchor="middle" >60</text><text x="528" y="354.4" font-size="5.6" font-weight="bold" fill="#000" text-anchor="middle" >80</text><text x="543.6" y="354.4" font-size="5.6" font-weight="bold" fill="#000" text-anchor="middle" >100</text><text x="411" y="368.8" font-size="9" font-weight="bold" fill="#111" text-anchor="start" >% Metabolic Regulation</text><rect x="469.1" y="189.9" width="3" height="3.1" fill="#8cc63e"/><text x="472.5" y="193.6" font-size="5.9" font-weight="normal" fill="#6a6a6a" text-anchor="start" textLength="30.2" lengthAdjust="spacingAndGlyphs">Upregulated</text><rect x="504.9" y="189.9" width="3.1" height="3.1" fill="#ed1c24"/><text x="508.8" y="193.6" font-size="5.9" font-weight="normal" fill="#6a6a6a" text-anchor="start" textLength="37" lengthAdjust="spacingAndGlyphs">Downregulated</text><defs><linearGradient id="gA" x1="0" x2="1" y1="0" y2="0"><stop offset="0" stop-color="#1e3b6a"/><stop offset="0.35" stop-color="#4f6794"/><stop offset="0.7" stop-color="#91a6c8"/><stop offset="1" stop-color="#d8ecfa"/></linearGradient><linearGradient id="gC" x1="0" x2="1" y1="0" y2="0"><stop offset="0" stop-color="#3f8a3f"/><stop offset="0.3" stop-color="#8aaa7c"/><stop offset="0.55" stop-color="#b87a4a"/><stop offset="0.75" stop-color="#cc4a34"/><stop offset="1" stop-color="#a22a20"/></linearGradient></defs><rect x="198.4" y="157.1" width="108.9" height="6.7" fill="url(#gA)" stroke="#c8c8c8" stroke-width="0.3"/><text x="198.2" y="171.5" font-size="6" font-weight="bold" fill="#111" text-anchor="start" >118</text><text x="307.4" y="171.6" font-size="6" font-weight="bold" fill="#111" text-anchor="end" >24</text><rect x="198.5" y="328.9" width="108.4" height="6.7" fill="url(#gC)"/><text x="198.4" y="343.2" font-size="6.2" font-weight="bold" fill="#222" text-anchor="start" textLength="33.9" lengthAdjust="spacingAndGlyphs">Upregulated</text><text x="265.1" y="343.2" font-size="6.2" font-weight="bold" fill="#222" text-anchor="start" textLength="42.4" lengthAdjust="spacingAndGlyphs">Downregulated</text>
</svg>
</body></html>
